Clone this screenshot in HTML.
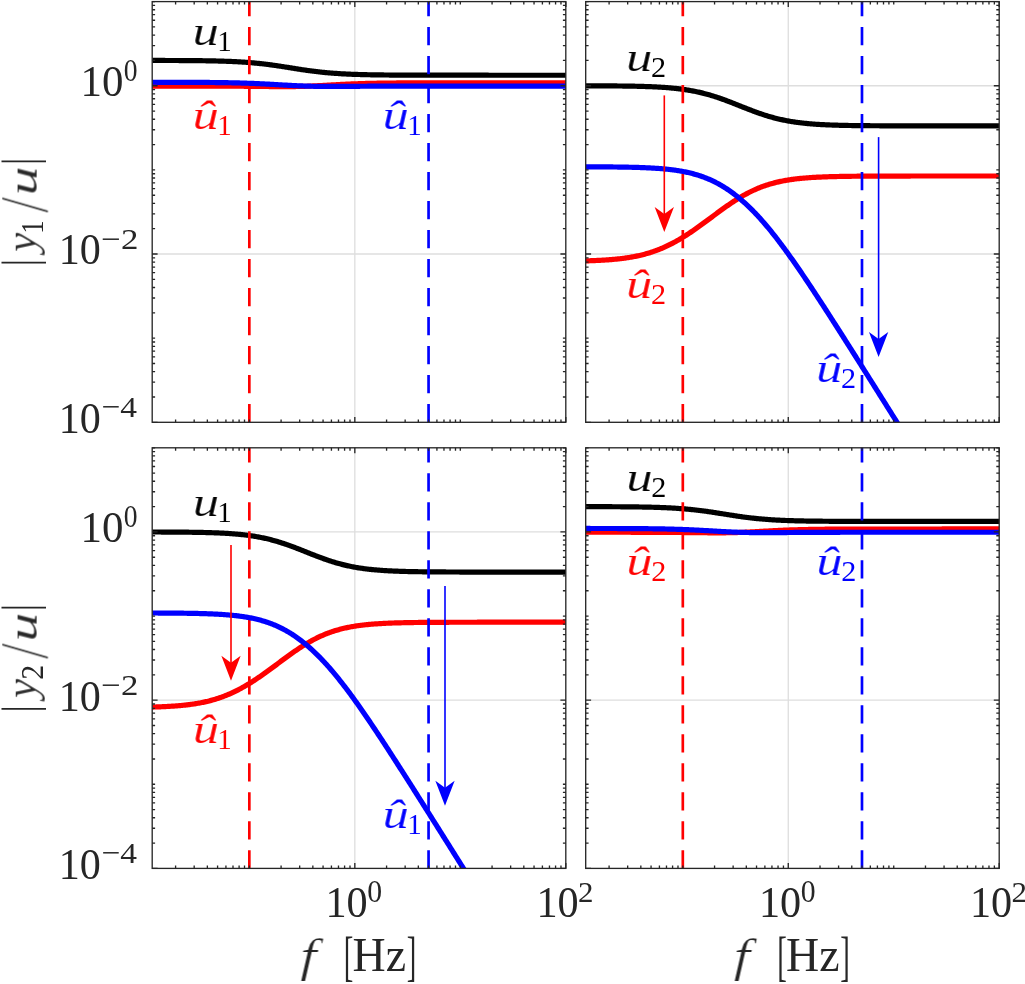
<!DOCTYPE html>
<html><head><meta charset="utf-8"><title>Transfer functions</title>
<style>html,body{margin:0;padding:0;background:#fff}svg{display:block}text{font-family:"Liberation Serif",serif}</style></head><body>
<svg width="1025" height="984" viewBox="0 0 1025 984">
<rect width="1025" height="984" fill="#fff"/>
<defs><filter id="thin" x="-10%" y="-10%" width="120%" height="120%" color-interpolation-filters="sRGB"><feMorphology operator="erode" radius="1 0" result="e"/><feComposite in="SourceGraphic" in2="e" operator="arithmetic" k1="0" k2="0.75" k3="0.25" k4="0"/></filter><filter id="thin2" x="-10%" y="-10%" width="120%" height="120%" color-interpolation-filters="sRGB"><feMorphology operator="erode" radius="1 0" result="e"/><feComposite in="SourceGraphic" in2="e" operator="arithmetic" k1="0" k2="0.45" k3="0.55" k4="0"/></filter></defs>
<clipPath id="cTL"><rect x="152.20" y="1.60" width="414.30" height="420.70"/></clipPath>
<clipPath id="cTR"><rect x="585.70" y="1.60" width="414.20" height="420.70"/></clipPath>
<clipPath id="cBL"><rect x="152.20" y="447.80" width="414.30" height="420.60"/></clipPath>
<clipPath id="cBR"><rect x="585.70" y="447.80" width="414.20" height="420.60"/></clipPath>
<g id="axTL">
<line x1="354.82" y1="1.60" x2="354.82" y2="422.30" stroke="#dedede" stroke-width="1.33"/>
<line x1="152.20" y1="85.74" x2="565.80" y2="85.74" stroke="#dedede" stroke-width="1.33"/>
<line x1="152.20" y1="254.02" x2="565.80" y2="254.02" stroke="#dedede" stroke-width="1.33"/>
<path clip-path="url(#cTL)" d="M152.20 60.45 L153.24 60.45 L154.27 60.45 L155.31 60.45 L156.35 60.45 L157.38 60.46 L158.42 60.46 L159.46 60.46 L160.49 60.46 L161.53 60.47 L162.57 60.47 L163.60 60.47 L164.64 60.47 L165.68 60.48 L166.71 60.48 L167.75 60.48 L168.79 60.49 L169.82 60.49 L170.86 60.49 L171.90 60.50 L172.93 60.50 L173.97 60.51 L175.01 60.51 L176.04 60.51 L177.08 60.52 L178.11 60.52 L179.15 60.53 L180.19 60.53 L181.22 60.54 L182.26 60.55 L183.30 60.55 L184.33 60.56 L185.37 60.57 L186.41 60.57 L187.44 60.58 L188.48 60.59 L189.52 60.60 L190.55 60.60 L191.59 60.61 L192.63 60.62 L193.66 60.63 L194.70 60.64 L195.74 60.65 L196.77 60.66 L197.81 60.67 L198.85 60.69 L199.88 60.70 L200.92 60.71 L201.96 60.72 L202.99 60.74 L204.03 60.75 L205.07 60.77 L206.10 60.79 L207.14 60.80 L208.18 60.82 L209.21 60.84 L210.25 60.86 L211.29 60.88 L212.32 60.90 L213.36 60.92 L214.40 60.94 L215.43 60.97 L216.47 60.99 L217.51 61.02 L218.54 61.04 L219.58 61.07 L220.62 61.10 L221.65 61.13 L222.69 61.16 L223.72 61.19 L224.76 61.23 L225.80 61.26 L226.83 61.30 L227.87 61.34 L228.91 61.38 L229.94 61.42 L230.98 61.47 L232.02 61.51 L233.05 61.56 L234.09 61.61 L235.13 61.66 L236.16 61.71 L237.20 61.76 L238.24 61.82 L239.27 61.88 L240.31 61.94 L241.35 62.00 L242.38 62.07 L243.42 62.13 L244.46 62.20 L245.49 62.27 L246.53 62.35 L247.57 62.43 L248.60 62.51 L249.64 62.59 L250.68 62.67 L251.71 62.76 L252.75 62.85 L253.79 62.94 L254.82 63.04 L255.86 63.14 L256.90 63.24 L257.93 63.34 L258.97 63.45 L260.01 63.56 L261.04 63.67 L262.08 63.79 L263.12 63.91 L264.15 64.03 L265.19 64.15 L266.23 64.28 L267.26 64.41 L268.30 64.54 L269.33 64.67 L270.37 64.81 L271.41 64.95 L272.44 65.09 L273.48 65.24 L274.52 65.38 L275.55 65.53 L276.59 65.68 L277.63 65.83 L278.66 65.99 L279.70 66.15 L280.74 66.30 L281.77 66.46 L282.81 66.62 L283.85 66.78 L284.88 66.95 L285.92 67.11 L286.96 67.27 L287.99 67.44 L289.03 67.60 L290.07 67.77 L291.10 67.94 L292.14 68.10 L293.18 68.27 L294.21 68.43 L295.25 68.59 L296.29 68.76 L297.32 68.92 L298.36 69.08 L299.40 69.24 L300.43 69.40 L301.47 69.56 L302.51 69.71 L303.54 69.87 L304.58 70.02 L305.62 70.17 L306.65 70.32 L307.69 70.46 L308.73 70.60 L309.76 70.75 L310.80 70.88 L311.84 71.02 L312.87 71.15 L313.91 71.28 L314.94 71.41 L315.98 71.54 L317.02 71.66 L318.05 71.78 L319.09 71.90 L320.13 72.01 L321.16 72.12 L322.20 72.23 L323.24 72.34 L324.27 72.44 L325.31 72.54 L326.35 72.64 L327.38 72.73 L328.42 72.83 L329.46 72.91 L330.49 73.00 L331.53 73.08 L332.57 73.17 L333.60 73.24 L334.64 73.32 L335.68 73.39 L336.71 73.46 L337.75 73.53 L338.79 73.60 L339.82 73.66 L340.86 73.73 L341.90 73.79 L342.93 73.84 L343.97 73.90 L345.01 73.95 L346.04 74.00 L347.08 74.05 L348.12 74.10 L349.15 74.15 L350.19 74.19 L351.23 74.23 L352.26 74.28 L353.30 74.31 L354.34 74.35 L355.37 74.39 L356.41 74.42 L357.45 74.46 L358.48 74.49 L359.52 74.52 L360.55 74.55 L361.59 74.58 L362.63 74.61 L363.66 74.63 L364.70 74.66 L365.74 74.68 L366.77 74.71 L367.81 74.73 L368.85 74.75 L369.88 74.77 L370.92 74.79 L371.96 74.81 L372.99 74.83 L374.03 74.84 L375.07 74.86 L376.10 74.88 L377.14 74.89 L378.18 74.91 L379.21 74.92 L380.25 74.93 L381.29 74.95 L382.32 74.96 L383.36 74.97 L384.40 74.98 L385.43 74.99 L386.47 75.00 L387.51 75.01 L388.54 75.02 L389.58 75.03 L390.62 75.04 L391.65 75.05 L392.69 75.05 L393.73 75.06 L394.76 75.07 L395.80 75.08 L396.84 75.08 L397.87 75.09 L398.91 75.10 L399.95 75.10 L400.98 75.11 L402.02 75.11 L403.06 75.12 L404.09 75.12 L405.13 75.13 L406.16 75.13 L407.20 75.14 L408.24 75.14 L409.27 75.14 L410.31 75.15 L411.35 75.15 L412.38 75.15 L413.42 75.16 L414.46 75.16 L415.49 75.16 L416.53 75.17 L417.57 75.17 L418.60 75.17 L419.64 75.17 L420.68 75.18 L421.71 75.18 L422.75 75.18 L423.79 75.18 L424.82 75.18 L425.86 75.19 L426.90 75.19 L427.93 75.19 L428.97 75.19 L430.01 75.19 L431.04 75.19 L432.08 75.20 L433.12 75.20 L434.15 75.20 L435.19 75.20 L436.23 75.20 L437.26 75.20 L438.30 75.20 L439.34 75.20 L440.37 75.21 L441.41 75.21 L442.45 75.21 L443.48 75.21 L444.52 75.21 L445.56 75.21 L446.59 75.21 L447.63 75.21 L448.67 75.21 L449.70 75.21 L450.74 75.21 L451.77 75.21 L452.81 75.21 L453.85 75.22 L454.88 75.22 L455.92 75.22 L456.96 75.22 L457.99 75.22 L459.03 75.22 L460.07 75.22 L461.10 75.22 L462.14 75.22 L463.18 75.22 L464.21 75.22 L465.25 75.22 L466.29 75.22 L467.32 75.22 L468.36 75.22 L469.40 75.22 L470.43 75.22 L471.47 75.22 L472.51 75.22 L473.54 75.22 L474.58 75.22 L475.62 75.22 L476.65 75.22 L477.69 75.22 L478.73 75.22 L479.76 75.22 L480.80 75.22 L481.84 75.22 L482.87 75.22 L483.91 75.22 L484.95 75.22 L485.98 75.22 L487.02 75.22 L488.06 75.22 L489.09 75.23 L490.13 75.23 L491.17 75.23 L492.20 75.23 L493.24 75.23 L494.28 75.23 L495.31 75.23 L496.35 75.23 L497.38 75.23 L498.42 75.23 L499.46 75.23 L500.49 75.23 L501.53 75.23 L502.57 75.23 L503.60 75.23 L504.64 75.23 L505.68 75.23 L506.71 75.23 L507.75 75.23 L508.79 75.23 L509.82 75.23 L510.86 75.23 L511.90 75.23 L512.93 75.23 L513.97 75.23 L515.01 75.23 L516.04 75.23 L517.08 75.23 L518.12 75.23 L519.15 75.23 L520.19 75.23 L521.23 75.23 L522.26 75.23 L523.30 75.23 L524.34 75.23 L525.37 75.23 L526.41 75.23 L527.45 75.23 L528.48 75.23 L529.52 75.23 L530.56 75.23 L531.59 75.23 L532.63 75.23 L533.67 75.23 L534.70 75.23 L535.74 75.23 L536.78 75.23 L537.81 75.23 L538.85 75.23 L539.89 75.23 L540.92 75.23 L541.96 75.23 L542.99 75.23 L544.03 75.23 L545.07 75.23 L546.10 75.23 L547.14 75.23 L548.18 75.23 L549.21 75.23 L550.25 75.23 L551.29 75.23 L552.32 75.23 L553.36 75.23 L554.40 75.23 L555.43 75.23 L556.47 75.23 L557.51 75.23 L558.54 75.23 L559.58 75.23 L560.62 75.23 L561.65 75.23 L562.69 75.23 L563.73 75.23 L564.76 75.23 L565.80 75.23" fill="none" stroke="#000000" stroke-width="5.20" stroke-linejoin="round"/>
<path clip-path="url(#cTL)" d="M152.20 86.04 L153.24 86.04 L154.27 86.04 L155.31 86.04 L156.35 86.04 L157.38 86.05 L158.42 86.05 L159.46 86.05 L160.49 86.05 L161.53 86.05 L162.57 86.05 L163.60 86.05 L164.64 86.05 L165.68 86.05 L166.71 86.05 L167.75 86.05 L168.79 86.05 L169.82 86.05 L170.86 86.05 L171.90 86.05 L172.93 86.05 L173.97 86.05 L175.01 86.05 L176.04 86.05 L177.08 86.05 L178.11 86.05 L179.15 86.06 L180.19 86.06 L181.22 86.06 L182.26 86.06 L183.30 86.06 L184.33 86.06 L185.37 86.06 L186.41 86.06 L187.44 86.06 L188.48 86.06 L189.52 86.06 L190.55 86.07 L191.59 86.07 L192.63 86.07 L193.66 86.07 L194.70 86.07 L195.74 86.07 L196.77 86.07 L197.81 86.08 L198.85 86.08 L199.88 86.08 L200.92 86.08 L201.96 86.08 L202.99 86.08 L204.03 86.09 L205.07 86.09 L206.10 86.09 L207.14 86.09 L208.18 86.10 L209.21 86.10 L210.25 86.10 L211.29 86.10 L212.32 86.11 L213.36 86.11 L214.40 86.11 L215.43 86.12 L216.47 86.12 L217.51 86.12 L218.54 86.13 L219.58 86.13 L220.62 86.13 L221.65 86.14 L222.69 86.14 L223.72 86.15 L224.76 86.15 L225.80 86.16 L226.83 86.16 L227.87 86.17 L228.91 86.17 L229.94 86.18 L230.98 86.18 L232.02 86.19 L233.05 86.19 L234.09 86.20 L235.13 86.21 L236.16 86.21 L237.20 86.22 L238.24 86.23 L239.27 86.24 L240.31 86.24 L241.35 86.25 L242.38 86.26 L243.42 86.27 L244.46 86.28 L245.49 86.29 L246.53 86.29 L247.57 86.30 L248.60 86.31 L249.64 86.32 L250.68 86.33 L251.71 86.34 L252.75 86.35 L253.79 86.36 L254.82 86.38 L255.86 86.39 L256.90 86.40 L257.93 86.41 L258.97 86.42 L260.01 86.43 L261.04 86.44 L262.08 86.45 L263.12 86.46 L264.15 86.48 L265.19 86.49 L266.23 86.50 L267.26 86.51 L268.30 86.52 L269.33 86.53 L270.37 86.54 L271.41 86.55 L272.44 86.56 L273.48 86.57 L274.52 86.58 L275.55 86.59 L276.59 86.59 L277.63 86.60 L278.66 86.61 L279.70 86.61 L280.74 86.62 L281.77 86.62 L282.81 86.62 L283.85 86.62 L284.88 86.62 L285.92 86.62 L286.96 86.62 L287.99 86.61 L289.03 86.61 L290.07 86.60 L291.10 86.59 L292.14 86.58 L293.18 86.57 L294.21 86.55 L295.25 86.54 L296.29 86.52 L297.32 86.50 L298.36 86.48 L299.40 86.45 L300.43 86.43 L301.47 86.40 L302.51 86.37 L303.54 86.34 L304.58 86.30 L305.62 86.27 L306.65 86.23 L307.69 86.19 L308.73 86.15 L309.76 86.11 L310.80 86.07 L311.84 86.02 L312.87 85.97 L313.91 85.92 L314.94 85.87 L315.98 85.82 L317.02 85.77 L318.05 85.71 L319.09 85.66 L320.13 85.60 L321.16 85.55 L322.20 85.49 L323.24 85.43 L324.27 85.37 L325.31 85.31 L326.35 85.25 L327.38 85.20 L328.42 85.14 L329.46 85.08 L330.49 85.02 L331.53 84.96 L332.57 84.90 L333.60 84.84 L334.64 84.78 L335.68 84.73 L336.71 84.67 L337.75 84.61 L338.79 84.56 L339.82 84.50 L340.86 84.45 L341.90 84.40 L342.93 84.35 L343.97 84.30 L345.01 84.25 L346.04 84.20 L347.08 84.15 L348.12 84.10 L349.15 84.06 L350.19 84.01 L351.23 83.97 L352.26 83.93 L353.30 83.88 L354.34 83.84 L355.37 83.81 L356.41 83.77 L357.45 83.73 L358.48 83.70 L359.52 83.66 L360.55 83.63 L361.59 83.59 L362.63 83.56 L363.66 83.53 L364.70 83.50 L365.74 83.47 L366.77 83.45 L367.81 83.42 L368.85 83.39 L369.88 83.37 L370.92 83.35 L371.96 83.32 L372.99 83.30 L374.03 83.28 L375.07 83.26 L376.10 83.24 L377.14 83.22 L378.18 83.20 L379.21 83.18 L380.25 83.17 L381.29 83.15 L382.32 83.14 L383.36 83.12 L384.40 83.11 L385.43 83.09 L386.47 83.08 L387.51 83.07 L388.54 83.05 L389.58 83.04 L390.62 83.03 L391.65 83.02 L392.69 83.01 L393.73 83.00 L394.76 82.99 L395.80 82.98 L396.84 82.97 L397.87 82.96 L398.91 82.95 L399.95 82.95 L400.98 82.94 L402.02 82.93 L403.06 82.93 L404.09 82.92 L405.13 82.91 L406.16 82.91 L407.20 82.90 L408.24 82.89 L409.27 82.89 L410.31 82.88 L411.35 82.88 L412.38 82.88 L413.42 82.87 L414.46 82.87 L415.49 82.86 L416.53 82.86 L417.57 82.85 L418.60 82.85 L419.64 82.85 L420.68 82.84 L421.71 82.84 L422.75 82.84 L423.79 82.84 L424.82 82.83 L425.86 82.83 L426.90 82.83 L427.93 82.83 L428.97 82.82 L430.01 82.82 L431.04 82.82 L432.08 82.82 L433.12 82.81 L434.15 82.81 L435.19 82.81 L436.23 82.81 L437.26 82.81 L438.30 82.81 L439.34 82.81 L440.37 82.80 L441.41 82.80 L442.45 82.80 L443.48 82.80 L444.52 82.80 L445.56 82.80 L446.59 82.80 L447.63 82.80 L448.67 82.79 L449.70 82.79 L450.74 82.79 L451.77 82.79 L452.81 82.79 L453.85 82.79 L454.88 82.79 L455.92 82.79 L456.96 82.79 L457.99 82.79 L459.03 82.79 L460.07 82.79 L461.10 82.79 L462.14 82.79 L463.18 82.78 L464.21 82.78 L465.25 82.78 L466.29 82.78 L467.32 82.78 L468.36 82.78 L469.40 82.78 L470.43 82.78 L471.47 82.78 L472.51 82.78 L473.54 82.78 L474.58 82.78 L475.62 82.78 L476.65 82.78 L477.69 82.78 L478.73 82.78 L479.76 82.78 L480.80 82.78 L481.84 82.78 L482.87 82.78 L483.91 82.78 L484.95 82.78 L485.98 82.78 L487.02 82.78 L488.06 82.78 L489.09 82.78 L490.13 82.78 L491.17 82.78 L492.20 82.78 L493.24 82.78 L494.28 82.78 L495.31 82.78 L496.35 82.78 L497.38 82.78 L498.42 82.78 L499.46 82.78 L500.49 82.78 L501.53 82.78 L502.57 82.78 L503.60 82.78 L504.64 82.78 L505.68 82.78 L506.71 82.78 L507.75 82.78 L508.79 82.77 L509.82 82.77 L510.86 82.77 L511.90 82.77 L512.93 82.77 L513.97 82.77 L515.01 82.77 L516.04 82.77 L517.08 82.77 L518.12 82.77 L519.15 82.77 L520.19 82.77 L521.23 82.77 L522.26 82.77 L523.30 82.77 L524.34 82.77 L525.37 82.77 L526.41 82.77 L527.45 82.77 L528.48 82.77 L529.52 82.77 L530.56 82.77 L531.59 82.77 L532.63 82.77 L533.67 82.77 L534.70 82.77 L535.74 82.77 L536.78 82.77 L537.81 82.77 L538.85 82.77 L539.89 82.77 L540.92 82.77 L541.96 82.77 L542.99 82.77 L544.03 82.77 L545.07 82.77 L546.10 82.77 L547.14 82.77 L548.18 82.77 L549.21 82.77 L550.25 82.77 L551.29 82.77 L552.32 82.77 L553.36 82.77 L554.40 82.77 L555.43 82.77 L556.47 82.77 L557.51 82.77 L558.54 82.77 L559.58 82.77 L560.62 82.77 L561.65 82.77 L562.69 82.77 L563.73 82.77 L564.76 82.77 L565.80 82.77" fill="none" stroke="#ff0000" stroke-width="5.20" stroke-linejoin="round"/>
<line x1="249.34" y1="422.30" x2="249.34" y2="1.60" stroke="#ff0000" stroke-width="2.67" stroke-dasharray="18.2 10.8"/>
<path clip-path="url(#cTL)" d="M152.20 82.27 L153.24 82.27 L154.27 82.27 L155.31 82.27 L156.35 82.27 L157.38 82.28 L158.42 82.28 L159.46 82.28 L160.49 82.28 L161.53 82.28 L162.57 82.28 L163.60 82.28 L164.64 82.28 L165.68 82.29 L166.71 82.29 L167.75 82.29 L168.79 82.29 L169.82 82.29 L170.86 82.29 L171.90 82.30 L172.93 82.30 L173.97 82.30 L175.01 82.30 L176.04 82.30 L177.08 82.31 L178.11 82.31 L179.15 82.31 L180.19 82.31 L181.22 82.32 L182.26 82.32 L183.30 82.32 L184.33 82.33 L185.37 82.33 L186.41 82.33 L187.44 82.34 L188.48 82.34 L189.52 82.35 L190.55 82.35 L191.59 82.35 L192.63 82.36 L193.66 82.36 L194.70 82.37 L195.74 82.37 L196.77 82.38 L197.81 82.38 L198.85 82.39 L199.88 82.40 L200.92 82.40 L201.96 82.41 L202.99 82.42 L204.03 82.42 L205.07 82.43 L206.10 82.44 L207.14 82.45 L208.18 82.46 L209.21 82.47 L210.25 82.48 L211.29 82.49 L212.32 82.50 L213.36 82.51 L214.40 82.52 L215.43 82.53 L216.47 82.54 L217.51 82.56 L218.54 82.57 L219.58 82.58 L220.62 82.60 L221.65 82.61 L222.69 82.63 L223.72 82.64 L224.76 82.66 L225.80 82.68 L226.83 82.69 L227.87 82.71 L228.91 82.73 L229.94 82.75 L230.98 82.77 L232.02 82.80 L233.05 82.82 L234.09 82.84 L235.13 82.87 L236.16 82.89 L237.20 82.92 L238.24 82.94 L239.27 82.97 L240.31 83.00 L241.35 83.03 L242.38 83.06 L243.42 83.09 L244.46 83.13 L245.49 83.16 L246.53 83.20 L247.57 83.23 L248.60 83.27 L249.64 83.31 L250.68 83.35 L251.71 83.39 L252.75 83.43 L253.79 83.47 L254.82 83.51 L255.86 83.56 L256.90 83.60 L257.93 83.65 L258.97 83.70 L260.01 83.75 L261.04 83.80 L262.08 83.85 L263.12 83.90 L264.15 83.95 L265.19 84.00 L266.23 84.06 L267.26 84.11 L268.30 84.17 L269.33 84.22 L270.37 84.28 L271.41 84.34 L272.44 84.40 L273.48 84.45 L274.52 84.51 L275.55 84.57 L276.59 84.63 L277.63 84.69 L278.66 84.75 L279.70 84.81 L280.74 84.87 L281.77 84.93 L282.81 84.99 L283.85 85.05 L284.88 85.10 L285.92 85.16 L286.96 85.22 L287.99 85.28 L289.03 85.33 L290.07 85.39 L291.10 85.44 L292.14 85.49 L293.18 85.55 L294.21 85.60 L295.25 85.65 L296.29 85.70 L297.32 85.74 L298.36 85.79 L299.40 85.83 L300.43 85.88 L301.47 85.92 L302.51 85.96 L303.54 86.00 L304.58 86.03 L305.62 86.07 L306.65 86.10 L307.69 86.13 L308.73 86.16 L309.76 86.19 L310.80 86.22 L311.84 86.24 L312.87 86.27 L313.91 86.29 L314.94 86.31 L315.98 86.33 L317.02 86.34 L318.05 86.36 L319.09 86.37 L320.13 86.39 L321.16 86.40 L322.20 86.41 L323.24 86.42 L324.27 86.43 L325.31 86.43 L326.35 86.44 L327.38 86.44 L328.42 86.44 L329.46 86.45 L330.49 86.45 L331.53 86.45 L332.57 86.45 L333.60 86.44 L334.64 86.44 L335.68 86.44 L336.71 86.44 L337.75 86.43 L338.79 86.43 L339.82 86.42 L340.86 86.42 L341.90 86.41 L342.93 86.40 L343.97 86.40 L345.01 86.39 L346.04 86.38 L347.08 86.38 L348.12 86.37 L349.15 86.36 L350.19 86.35 L351.23 86.34 L352.26 86.34 L353.30 86.33 L354.34 86.32 L355.37 86.31 L356.41 86.31 L357.45 86.30 L358.48 86.29 L359.52 86.28 L360.55 86.27 L361.59 86.27 L362.63 86.26 L363.66 86.25 L364.70 86.24 L365.74 86.24 L366.77 86.23 L367.81 86.22 L368.85 86.22 L369.88 86.21 L370.92 86.20 L371.96 86.20 L372.99 86.19 L374.03 86.19 L375.07 86.18 L376.10 86.18 L377.14 86.17 L378.18 86.16 L379.21 86.16 L380.25 86.15 L381.29 86.15 L382.32 86.15 L383.36 86.14 L384.40 86.14 L385.43 86.13 L386.47 86.13 L387.51 86.13 L388.54 86.12 L389.58 86.12 L390.62 86.11 L391.65 86.11 L392.69 86.11 L393.73 86.11 L394.76 86.10 L395.80 86.10 L396.84 86.10 L397.87 86.09 L398.91 86.09 L399.95 86.09 L400.98 86.09 L402.02 86.08 L403.06 86.08 L404.09 86.08 L405.13 86.08 L406.16 86.08 L407.20 86.07 L408.24 86.07 L409.27 86.07 L410.31 86.07 L411.35 86.07 L412.38 86.07 L413.42 86.07 L414.46 86.06 L415.49 86.06 L416.53 86.06 L417.57 86.06 L418.60 86.06 L419.64 86.06 L420.68 86.06 L421.71 86.06 L422.75 86.05 L423.79 86.05 L424.82 86.05 L425.86 86.05 L426.90 86.05 L427.93 86.05 L428.97 86.05 L430.01 86.05 L431.04 86.05 L432.08 86.05 L433.12 86.05 L434.15 86.05 L435.19 86.05 L436.23 86.05 L437.26 86.04 L438.30 86.04 L439.34 86.04 L440.37 86.04 L441.41 86.04 L442.45 86.04 L443.48 86.04 L444.52 86.04 L445.56 86.04 L446.59 86.04 L447.63 86.04 L448.67 86.04 L449.70 86.04 L450.74 86.04 L451.77 86.04 L452.81 86.04 L453.85 86.04 L454.88 86.04 L455.92 86.04 L456.96 86.04 L457.99 86.04 L459.03 86.04 L460.07 86.04 L461.10 86.04 L462.14 86.04 L463.18 86.04 L464.21 86.04 L465.25 86.04 L466.29 86.04 L467.32 86.04 L468.36 86.04 L469.40 86.04 L470.43 86.04 L471.47 86.04 L472.51 86.04 L473.54 86.04 L474.58 86.04 L475.62 86.04 L476.65 86.04 L477.69 86.04 L478.73 86.04 L479.76 86.04 L480.80 86.04 L481.84 86.04 L482.87 86.04 L483.91 86.04 L484.95 86.03 L485.98 86.03 L487.02 86.03 L488.06 86.03 L489.09 86.03 L490.13 86.03 L491.17 86.03 L492.20 86.03 L493.24 86.03 L494.28 86.03 L495.31 86.03 L496.35 86.03 L497.38 86.03 L498.42 86.03 L499.46 86.03 L500.49 86.03 L501.53 86.03 L502.57 86.03 L503.60 86.03 L504.64 86.03 L505.68 86.03 L506.71 86.03 L507.75 86.03 L508.79 86.03 L509.82 86.03 L510.86 86.03 L511.90 86.03 L512.93 86.03 L513.97 86.03 L515.01 86.03 L516.04 86.03 L517.08 86.03 L518.12 86.03 L519.15 86.03 L520.19 86.03 L521.23 86.03 L522.26 86.03 L523.30 86.03 L524.34 86.03 L525.37 86.03 L526.41 86.03 L527.45 86.03 L528.48 86.03 L529.52 86.03 L530.56 86.03 L531.59 86.03 L532.63 86.03 L533.67 86.03 L534.70 86.03 L535.74 86.03 L536.78 86.03 L537.81 86.03 L538.85 86.03 L539.89 86.03 L540.92 86.03 L541.96 86.03 L542.99 86.03 L544.03 86.03 L545.07 86.03 L546.10 86.03 L547.14 86.03 L548.18 86.03 L549.21 86.03 L550.25 86.03 L551.29 86.03 L552.32 86.03 L553.36 86.03 L554.40 86.03 L555.43 86.03 L556.47 86.03 L557.51 86.03 L558.54 86.03 L559.58 86.03 L560.62 86.03 L561.65 86.03 L562.69 86.03 L563.73 86.03 L564.76 86.03 L565.80 86.03" fill="none" stroke="#0000ff" stroke-width="5.20" stroke-linejoin="round"/>
<line x1="428.56" y1="422.30" x2="428.56" y2="1.60" stroke="#0000ff" stroke-width="2.67" stroke-dasharray="18.2 10.8"/>
<path d="M175.60 422.30v-2.90 M175.60 1.60v2.90 M194.18 422.30v-2.90 M194.18 1.60v2.90 M207.36 422.30v-2.90 M207.36 1.60v2.90 M217.58 422.30v-2.90 M217.58 1.60v2.90 M225.93 422.30v-2.90 M225.93 1.60v2.90 M233.00 422.30v-2.90 M233.00 1.60v2.90 M239.11 422.30v-2.90 M239.11 1.60v2.90 M244.51 422.30v-2.90 M244.51 1.60v2.90 M249.34 422.30v-2.90 M249.34 1.60v2.90 M281.09 422.30v-2.90 M281.09 1.60v2.90 M299.67 422.30v-2.90 M299.67 1.60v2.90 M312.85 422.30v-2.90 M312.85 1.60v2.90 M323.07 422.30v-2.90 M323.07 1.60v2.90 M331.42 422.30v-2.90 M331.42 1.60v2.90 M338.48 422.30v-2.90 M338.48 1.60v2.90 M344.60 422.30v-2.90 M344.60 1.60v2.90 M350.00 422.30v-2.90 M350.00 1.60v2.90 M354.82 422.30v-5.40 M354.82 1.60v5.40 M386.58 422.30v-2.90 M386.58 1.60v2.90 M405.15 422.30v-2.90 M405.15 1.60v2.90 M418.33 422.30v-2.90 M418.33 1.60v2.90 M428.56 422.30v-2.90 M428.56 1.60v2.90 M436.91 422.30v-2.90 M436.91 1.60v2.90 M443.97 422.30v-2.90 M443.97 1.60v2.90 M450.09 422.30v-2.90 M450.09 1.60v2.90 M455.48 422.30v-2.90 M455.48 1.60v2.90 M460.31 422.30v-2.90 M460.31 1.60v2.90 M492.07 422.30v-2.90 M492.07 1.60v2.90 M510.64 422.30v-2.90 M510.64 1.60v2.90 M523.82 422.30v-2.90 M523.82 1.60v2.90 M534.04 422.30v-2.90 M534.04 1.60v2.90 M542.40 422.30v-2.90 M542.40 1.60v2.90 M549.46 422.30v-2.90 M549.46 1.60v2.90 M555.58 422.30v-2.90 M555.58 1.60v2.90 M560.97 422.30v-2.90 M560.97 1.60v2.90 M565.80 422.30v-5.40 M565.80 1.60v5.40 M152.20 422.30h5.40 M565.80 422.30h-5.40 M152.20 396.97h2.90 M565.80 396.97h-2.90 M152.20 382.16h2.90 M565.80 382.16h-2.90 M152.20 371.64h2.90 M565.80 371.64h-2.90 M152.20 363.49h2.90 M565.80 363.49h-2.90 M152.20 356.83h2.90 M565.80 356.83h-2.90 M152.20 351.19h2.90 M565.80 351.19h-2.90 M152.20 346.31h2.90 M565.80 346.31h-2.90 M152.20 342.01h2.90 M565.80 342.01h-2.90 M152.20 338.16h2.90 M565.80 338.16h-2.90 M152.20 312.83h2.90 M565.80 312.83h-2.90 M152.20 298.02h2.90 M565.80 298.02h-2.90 M152.20 287.50h2.90 M565.80 287.50h-2.90 M152.20 279.35h2.90 M565.80 279.35h-2.90 M152.20 272.69h2.90 M565.80 272.69h-2.90 M152.20 267.05h2.90 M565.80 267.05h-2.90 M152.20 262.17h2.90 M565.80 262.17h-2.90 M152.20 257.87h2.90 M565.80 257.87h-2.90 M152.20 254.02h5.40 M565.80 254.02h-5.40 M152.20 228.69h2.90 M565.80 228.69h-2.90 M152.20 213.88h2.90 M565.80 213.88h-2.90 M152.20 203.36h2.90 M565.80 203.36h-2.90 M152.20 195.21h2.90 M565.80 195.21h-2.90 M152.20 188.55h2.90 M565.80 188.55h-2.90 M152.20 182.91h2.90 M565.80 182.91h-2.90 M152.20 178.03h2.90 M565.80 178.03h-2.90 M152.20 173.73h2.90 M565.80 173.73h-2.90 M152.20 169.88h2.90 M565.80 169.88h-2.90 M152.20 144.55h2.90 M565.80 144.55h-2.90 M152.20 129.74h2.90 M565.80 129.74h-2.90 M152.20 119.22h2.90 M565.80 119.22h-2.90 M152.20 111.07h2.90 M565.80 111.07h-2.90 M152.20 104.41h2.90 M565.80 104.41h-2.90 M152.20 98.77h2.90 M565.80 98.77h-2.90 M152.20 93.89h2.90 M565.80 93.89h-2.90 M152.20 89.59h2.90 M565.80 89.59h-2.90 M152.20 85.74h5.40 M565.80 85.74h-5.40 M152.20 60.41h2.90 M565.80 60.41h-2.90 M152.20 45.60h2.90 M565.80 45.60h-2.90 M152.20 35.08h2.90 M565.80 35.08h-2.90 M152.20 26.93h2.90 M565.80 26.93h-2.90 M152.20 20.27h2.90 M565.80 20.27h-2.90 M152.20 14.63h2.90 M565.80 14.63h-2.90 M152.20 9.75h2.90 M565.80 9.75h-2.90 M152.20 5.45h2.90 M565.80 5.45h-2.90 M152.20 1.60h2.90 M565.80 1.60h-2.90" stroke="#262626" stroke-width="1.33" fill="none"/>
<rect x="152.20" y="1.60" width="413.60" height="420.70" fill="none" stroke="#262626" stroke-width="1.33"/>
</g>
<g id="axTR">
<line x1="788.27" y1="1.60" x2="788.27" y2="422.30" stroke="#dedede" stroke-width="1.33"/>
<line x1="585.70" y1="85.74" x2="999.20" y2="85.74" stroke="#dedede" stroke-width="1.33"/>
<line x1="585.70" y1="254.02" x2="999.20" y2="254.02" stroke="#dedede" stroke-width="1.33"/>
<path clip-path="url(#cTR)" d="M585.70 85.80 L586.74 85.80 L587.77 85.80 L588.81 85.81 L589.85 85.81 L590.88 85.81 L591.92 85.82 L592.95 85.82 L593.99 85.82 L595.03 85.83 L596.06 85.83 L597.10 85.84 L598.14 85.84 L599.17 85.84 L600.21 85.85 L601.25 85.85 L602.28 85.86 L603.32 85.87 L604.35 85.87 L605.39 85.88 L606.43 85.88 L607.46 85.89 L608.50 85.90 L609.54 85.90 L610.57 85.91 L611.61 85.92 L612.64 85.93 L613.68 85.94 L614.72 85.95 L615.75 85.96 L616.79 85.97 L617.83 85.98 L618.86 85.99 L619.90 86.00 L620.94 86.01 L621.97 86.02 L623.01 86.04 L624.04 86.05 L625.08 86.06 L626.12 86.08 L627.15 86.09 L628.19 86.11 L629.23 86.13 L630.26 86.14 L631.30 86.16 L632.34 86.18 L633.37 86.20 L634.41 86.22 L635.44 86.24 L636.48 86.27 L637.52 86.29 L638.55 86.32 L639.59 86.34 L640.63 86.37 L641.66 86.40 L642.70 86.43 L643.74 86.46 L644.77 86.49 L645.81 86.53 L646.84 86.56 L647.88 86.60 L648.92 86.64 L649.95 86.68 L650.99 86.72 L652.03 86.76 L653.06 86.81 L654.10 86.85 L655.13 86.90 L656.17 86.96 L657.21 87.01 L658.24 87.07 L659.28 87.12 L660.32 87.19 L661.35 87.25 L662.39 87.32 L663.43 87.38 L664.46 87.46 L665.50 87.53 L666.53 87.61 L667.57 87.69 L668.61 87.77 L669.64 87.86 L670.68 87.95 L671.72 88.05 L672.75 88.15 L673.79 88.25 L674.83 88.35 L675.86 88.46 L676.90 88.58 L677.93 88.70 L678.97 88.82 L680.01 88.95 L681.04 89.08 L682.08 89.22 L683.12 89.36 L684.15 89.51 L685.19 89.66 L686.23 89.82 L687.26 89.98 L688.30 90.15 L689.33 90.32 L690.37 90.50 L691.41 90.69 L692.44 90.88 L693.48 91.07 L694.52 91.28 L695.55 91.49 L696.59 91.70 L697.62 91.93 L698.66 92.15 L699.70 92.39 L700.73 92.63 L701.77 92.88 L702.81 93.13 L703.84 93.40 L704.88 93.66 L705.92 93.94 L706.95 94.22 L707.99 94.51 L709.02 94.80 L710.06 95.10 L711.10 95.41 L712.13 95.72 L713.17 96.04 L714.21 96.37 L715.24 96.70 L716.28 97.04 L717.32 97.38 L718.35 97.73 L719.39 98.08 L720.42 98.44 L721.46 98.81 L722.50 99.18 L723.53 99.55 L724.57 99.93 L725.61 100.31 L726.64 100.70 L727.68 101.09 L728.72 101.49 L729.75 101.88 L730.79 102.28 L731.82 102.69 L732.86 103.09 L733.90 103.50 L734.93 103.91 L735.97 104.32 L737.01 104.73 L738.04 105.14 L739.08 105.56 L740.11 105.97 L741.15 106.38 L742.19 106.80 L743.22 107.21 L744.26 107.62 L745.30 108.03 L746.33 108.44 L747.37 108.84 L748.41 109.25 L749.44 109.65 L750.48 110.05 L751.51 110.44 L752.55 110.83 L753.59 111.22 L754.62 111.60 L755.66 111.98 L756.70 112.36 L757.73 112.73 L758.77 113.10 L759.81 113.46 L760.84 113.81 L761.88 114.16 L762.91 114.51 L763.95 114.85 L764.99 115.18 L766.02 115.51 L767.06 115.83 L768.10 116.14 L769.13 116.45 L770.17 116.75 L771.21 117.05 L772.24 117.34 L773.28 117.62 L774.31 117.90 L775.35 118.17 L776.39 118.43 L777.42 118.69 L778.46 118.94 L779.50 119.18 L780.53 119.42 L781.57 119.65 L782.60 119.87 L783.64 120.09 L784.68 120.30 L785.71 120.50 L786.75 120.70 L787.79 120.89 L788.82 121.08 L789.86 121.26 L790.90 121.44 L791.93 121.61 L792.97 121.77 L794.00 121.93 L795.04 122.08 L796.08 122.23 L797.11 122.38 L798.15 122.51 L799.19 122.65 L800.22 122.78 L801.26 122.90 L802.30 123.02 L803.33 123.13 L804.37 123.25 L805.40 123.35 L806.44 123.46 L807.48 123.56 L808.51 123.65 L809.55 123.74 L810.59 123.83 L811.62 123.92 L812.66 124.00 L813.69 124.08 L814.73 124.15 L815.77 124.22 L816.80 124.29 L817.84 124.36 L818.88 124.42 L819.91 124.49 L820.95 124.55 L821.99 124.60 L823.02 124.66 L824.06 124.71 L825.09 124.76 L826.13 124.81 L827.17 124.85 L828.20 124.90 L829.24 124.94 L830.28 124.98 L831.31 125.02 L832.35 125.06 L833.39 125.09 L834.42 125.13 L835.46 125.16 L836.49 125.19 L837.53 125.22 L838.57 125.25 L839.60 125.28 L840.64 125.30 L841.68 125.33 L842.71 125.35 L843.75 125.38 L844.79 125.40 L845.82 125.42 L846.86 125.44 L847.89 125.46 L848.93 125.48 L849.97 125.49 L851.00 125.51 L852.04 125.53 L853.08 125.54 L854.11 125.56 L855.15 125.57 L856.18 125.59 L857.22 125.60 L858.26 125.61 L859.29 125.62 L860.33 125.64 L861.37 125.65 L862.40 125.66 L863.44 125.67 L864.48 125.68 L865.51 125.69 L866.55 125.69 L867.58 125.70 L868.62 125.71 L869.66 125.72 L870.69 125.73 L871.73 125.73 L872.77 125.74 L873.80 125.75 L874.84 125.75 L875.88 125.76 L876.91 125.76 L877.95 125.77 L878.98 125.77 L880.02 125.78 L881.06 125.78 L882.09 125.79 L883.13 125.79 L884.17 125.80 L885.20 125.80 L886.24 125.80 L887.28 125.81 L888.31 125.81 L889.35 125.81 L890.38 125.82 L891.42 125.82 L892.46 125.82 L893.49 125.83 L894.53 125.83 L895.57 125.83 L896.60 125.83 L897.64 125.84 L898.67 125.84 L899.71 125.84 L900.75 125.84 L901.78 125.84 L902.82 125.85 L903.86 125.85 L904.89 125.85 L905.93 125.85 L906.97 125.85 L908.00 125.85 L909.04 125.86 L910.07 125.86 L911.11 125.86 L912.15 125.86 L913.18 125.86 L914.22 125.86 L915.26 125.86 L916.29 125.86 L917.33 125.86 L918.37 125.87 L919.40 125.87 L920.44 125.87 L921.47 125.87 L922.51 125.87 L923.55 125.87 L924.58 125.87 L925.62 125.87 L926.66 125.87 L927.69 125.87 L928.73 125.87 L929.77 125.87 L930.80 125.87 L931.84 125.87 L932.87 125.87 L933.91 125.87 L934.95 125.88 L935.98 125.88 L937.02 125.88 L938.06 125.88 L939.09 125.88 L940.13 125.88 L941.16 125.88 L942.20 125.88 L943.24 125.88 L944.27 125.88 L945.31 125.88 L946.35 125.88 L947.38 125.88 L948.42 125.88 L949.46 125.88 L950.49 125.88 L951.53 125.88 L952.56 125.88 L953.60 125.88 L954.64 125.88 L955.67 125.88 L956.71 125.88 L957.75 125.88 L958.78 125.88 L959.82 125.88 L960.86 125.88 L961.89 125.88 L962.93 125.88 L963.96 125.88 L965.00 125.88 L966.04 125.88 L967.07 125.88 L968.11 125.88 L969.15 125.88 L970.18 125.88 L971.22 125.88 L972.26 125.88 L973.29 125.88 L974.33 125.88 L975.36 125.88 L976.40 125.88 L977.44 125.88 L978.47 125.88 L979.51 125.88 L980.55 125.88 L981.58 125.88 L982.62 125.88 L983.65 125.88 L984.69 125.88 L985.73 125.88 L986.76 125.88 L987.80 125.88 L988.84 125.88 L989.87 125.88 L990.91 125.88 L991.95 125.88 L992.98 125.88 L994.02 125.88 L995.05 125.88 L996.09 125.88 L997.13 125.88 L998.16 125.88 L999.20 125.88" fill="none" stroke="#000000" stroke-width="5.20" stroke-linejoin="round"/>
<path clip-path="url(#cTR)" d="M585.70 260.87 L586.74 260.84 L587.77 260.81 L588.81 260.78 L589.85 260.74 L590.88 260.71 L591.92 260.67 L592.95 260.63 L593.99 260.59 L595.03 260.55 L596.06 260.50 L597.10 260.46 L598.14 260.41 L599.17 260.36 L600.21 260.30 L601.25 260.25 L602.28 260.19 L603.32 260.13 L604.35 260.07 L605.39 260.00 L606.43 259.93 L607.46 259.86 L608.50 259.79 L609.54 259.71 L610.57 259.63 L611.61 259.54 L612.64 259.46 L613.68 259.36 L614.72 259.27 L615.75 259.17 L616.79 259.07 L617.83 258.96 L618.86 258.85 L619.90 258.73 L620.94 258.61 L621.97 258.48 L623.01 258.35 L624.04 258.22 L625.08 258.08 L626.12 257.93 L627.15 257.78 L628.19 257.62 L629.23 257.46 L630.26 257.29 L631.30 257.11 L632.34 256.93 L633.37 256.74 L634.41 256.54 L635.44 256.34 L636.48 256.13 L637.52 255.91 L638.55 255.68 L639.59 255.45 L640.63 255.21 L641.66 254.96 L642.70 254.70 L643.74 254.43 L644.77 254.16 L645.81 253.87 L646.84 253.58 L647.88 253.28 L648.92 252.97 L649.95 252.65 L650.99 252.32 L652.03 251.98 L653.06 251.63 L654.10 251.27 L655.13 250.91 L656.17 250.53 L657.21 250.14 L658.24 249.74 L659.28 249.33 L660.32 248.91 L661.35 248.49 L662.39 248.05 L663.43 247.60 L664.46 247.14 L665.50 246.67 L666.53 246.19 L667.57 245.69 L668.61 245.19 L669.64 244.68 L670.68 244.16 L671.72 243.63 L672.75 243.09 L673.79 242.53 L674.83 241.97 L675.86 241.40 L676.90 240.82 L677.93 240.23 L678.97 239.63 L680.01 239.02 L681.04 238.40 L682.08 237.78 L683.12 237.14 L684.15 236.50 L685.19 235.84 L686.23 235.18 L687.26 234.51 L688.30 233.84 L689.33 233.15 L690.37 232.46 L691.41 231.76 L692.44 231.06 L693.48 230.35 L694.52 229.63 L695.55 228.90 L696.59 228.18 L697.62 227.44 L698.66 226.70 L699.70 225.96 L700.73 225.21 L701.77 224.46 L702.81 223.70 L703.84 222.94 L704.88 222.18 L705.92 221.42 L706.95 220.65 L707.99 219.88 L709.02 219.11 L710.06 218.34 L711.10 217.57 L712.13 216.80 L713.17 216.03 L714.21 215.26 L715.24 214.49 L716.28 213.72 L717.32 212.96 L718.35 212.19 L719.39 211.43 L720.42 210.68 L721.46 209.92 L722.50 209.17 L723.53 208.43 L724.57 207.69 L725.61 206.95 L726.64 206.22 L727.68 205.50 L728.72 204.78 L729.75 204.07 L730.79 203.37 L731.82 202.67 L732.86 201.98 L733.90 201.30 L734.93 200.63 L735.97 199.97 L737.01 199.32 L738.04 198.67 L739.08 198.04 L740.11 197.41 L741.15 196.80 L742.19 196.19 L743.22 195.60 L744.26 195.01 L745.30 194.44 L746.33 193.88 L747.37 193.33 L748.41 192.79 L749.44 192.26 L750.48 191.74 L751.51 191.23 L752.55 190.74 L753.59 190.25 L754.62 189.78 L755.66 189.32 L756.70 188.87 L757.73 188.43 L758.77 188.00 L759.81 187.59 L760.84 187.18 L761.88 186.79 L762.91 186.41 L763.95 186.03 L764.99 185.67 L766.02 185.32 L767.06 184.98 L768.10 184.65 L769.13 184.33 L770.17 184.02 L771.21 183.72 L772.24 183.43 L773.28 183.14 L774.31 182.87 L775.35 182.61 L776.39 182.35 L777.42 182.10 L778.46 181.87 L779.50 181.64 L780.53 181.41 L781.57 181.20 L782.60 180.99 L783.64 180.79 L784.68 180.60 L785.71 180.42 L786.75 180.24 L787.79 180.07 L788.82 179.90 L789.86 179.74 L790.90 179.59 L791.93 179.44 L792.97 179.30 L794.00 179.16 L795.04 179.03 L796.08 178.91 L797.11 178.79 L798.15 178.67 L799.19 178.56 L800.22 178.45 L801.26 178.35 L802.30 178.25 L803.33 178.15 L804.37 178.06 L805.40 177.98 L806.44 177.89 L807.48 177.81 L808.51 177.74 L809.55 177.66 L810.59 177.59 L811.62 177.52 L812.66 177.46 L813.69 177.40 L814.73 177.34 L815.77 177.28 L816.80 177.22 L817.84 177.17 L818.88 177.12 L819.91 177.07 L820.95 177.03 L821.99 176.98 L823.02 176.94 L824.06 176.90 L825.09 176.86 L826.13 176.82 L827.17 176.79 L828.20 176.75 L829.24 176.72 L830.28 176.69 L831.31 176.66 L832.35 176.63 L833.39 176.60 L834.42 176.58 L835.46 176.55 L836.49 176.53 L837.53 176.51 L838.57 176.48 L839.60 176.46 L840.64 176.44 L841.68 176.42 L842.71 176.40 L843.75 176.39 L844.79 176.37 L845.82 176.35 L846.86 176.34 L847.89 176.32 L848.93 176.31 L849.97 176.30 L851.00 176.28 L852.04 176.27 L853.08 176.26 L854.11 176.25 L855.15 176.24 L856.18 176.23 L857.22 176.22 L858.26 176.21 L859.29 176.20 L860.33 176.19 L861.37 176.18 L862.40 176.17 L863.44 176.17 L864.48 176.16 L865.51 176.15 L866.55 176.15 L867.58 176.14 L868.62 176.13 L869.66 176.13 L870.69 176.12 L871.73 176.12 L872.77 176.11 L873.80 176.11 L874.84 176.10 L875.88 176.10 L876.91 176.09 L877.95 176.09 L878.98 176.09 L880.02 176.08 L881.06 176.08 L882.09 176.08 L883.13 176.07 L884.17 176.07 L885.20 176.07 L886.24 176.06 L887.28 176.06 L888.31 176.06 L889.35 176.06 L890.38 176.05 L891.42 176.05 L892.46 176.05 L893.49 176.05 L894.53 176.05 L895.57 176.04 L896.60 176.04 L897.64 176.04 L898.67 176.04 L899.71 176.04 L900.75 176.04 L901.78 176.03 L902.82 176.03 L903.86 176.03 L904.89 176.03 L905.93 176.03 L906.97 176.03 L908.00 176.03 L909.04 176.03 L910.07 176.03 L911.11 176.02 L912.15 176.02 L913.18 176.02 L914.22 176.02 L915.26 176.02 L916.29 176.02 L917.33 176.02 L918.37 176.02 L919.40 176.02 L920.44 176.02 L921.47 176.02 L922.51 176.02 L923.55 176.02 L924.58 176.02 L925.62 176.01 L926.66 176.01 L927.69 176.01 L928.73 176.01 L929.77 176.01 L930.80 176.01 L931.84 176.01 L932.87 176.01 L933.91 176.01 L934.95 176.01 L935.98 176.01 L937.02 176.01 L938.06 176.01 L939.09 176.01 L940.13 176.01 L941.16 176.01 L942.20 176.01 L943.24 176.01 L944.27 176.01 L945.31 176.01 L946.35 176.01 L947.38 176.01 L948.42 176.01 L949.46 176.01 L950.49 176.01 L951.53 176.01 L952.56 176.01 L953.60 176.01 L954.64 176.01 L955.67 176.01 L956.71 176.01 L957.75 176.01 L958.78 176.01 L959.82 176.01 L960.86 176.01 L961.89 176.01 L962.93 176.01 L963.96 176.01 L965.00 176.01 L966.04 176.01 L967.07 176.01 L968.11 176.01 L969.15 176.01 L970.18 176.01 L971.22 176.01 L972.26 176.01 L973.29 176.01 L974.33 176.01 L975.36 176.01 L976.40 176.01 L977.44 176.01 L978.47 176.01 L979.51 176.00 L980.55 176.00 L981.58 176.00 L982.62 176.00 L983.65 176.00 L984.69 176.00 L985.73 176.00 L986.76 176.00 L987.80 176.00 L988.84 176.00 L989.87 176.00 L990.91 176.00 L991.95 176.00 L992.98 176.00 L994.02 176.00 L995.05 176.00 L996.09 176.00 L997.13 176.00 L998.16 176.00 L999.20 176.00" fill="none" stroke="#ff0000" stroke-width="5.20" stroke-linejoin="round"/>
<line x1="682.81" y1="422.30" x2="682.81" y2="1.60" stroke="#ff0000" stroke-width="2.67" stroke-dasharray="18.2 10.8"/>
<path clip-path="url(#cTR)" d="M585.70 166.81 L586.74 166.81 L587.77 166.81 L588.81 166.82 L589.85 166.82 L590.88 166.82 L591.92 166.83 L592.95 166.83 L593.99 166.84 L595.03 166.84 L596.06 166.85 L597.10 166.85 L598.14 166.86 L599.17 166.87 L600.21 166.87 L601.25 166.88 L602.28 166.89 L603.32 166.89 L604.35 166.90 L605.39 166.91 L606.43 166.92 L607.46 166.92 L608.50 166.93 L609.54 166.94 L610.57 166.95 L611.61 166.96 L612.64 166.97 L613.68 166.98 L614.72 167.00 L615.75 167.01 L616.79 167.02 L617.83 167.03 L618.86 167.05 L619.90 167.06 L620.94 167.08 L621.97 167.09 L623.01 167.11 L624.04 167.13 L625.08 167.15 L626.12 167.17 L627.15 167.19 L628.19 167.21 L629.23 167.23 L630.26 167.25 L631.30 167.27 L632.34 167.30 L633.37 167.33 L634.41 167.35 L635.44 167.38 L636.48 167.41 L637.52 167.44 L638.55 167.47 L639.59 167.51 L640.63 167.54 L641.66 167.58 L642.70 167.62 L643.74 167.66 L644.77 167.70 L645.81 167.75 L646.84 167.79 L647.88 167.84 L648.92 167.89 L649.95 167.94 L650.99 168.00 L652.03 168.05 L653.06 168.11 L654.10 168.17 L655.13 168.24 L656.17 168.31 L657.21 168.38 L658.24 168.45 L659.28 168.53 L660.32 168.61 L661.35 168.69 L662.39 168.78 L663.43 168.87 L664.46 168.96 L665.50 169.06 L666.53 169.16 L667.57 169.27 L668.61 169.38 L669.64 169.50 L670.68 169.62 L671.72 169.74 L672.75 169.87 L673.79 170.01 L674.83 170.15 L675.86 170.30 L676.90 170.45 L677.93 170.61 L678.97 170.78 L680.01 170.95 L681.04 171.13 L682.08 171.31 L683.12 171.50 L684.15 171.70 L685.19 171.91 L686.23 172.13 L687.26 172.35 L688.30 172.58 L689.33 172.82 L690.37 173.07 L691.41 173.32 L692.44 173.59 L693.48 173.86 L694.52 174.15 L695.55 174.44 L696.59 174.75 L697.62 175.06 L698.66 175.39 L699.70 175.72 L700.73 176.07 L701.77 176.43 L702.81 176.80 L703.84 177.18 L704.88 177.57 L705.92 177.97 L706.95 178.39 L707.99 178.82 L709.02 179.26 L710.06 179.71 L711.10 180.18 L712.13 180.66 L713.17 181.15 L714.21 181.65 L715.24 182.17 L716.28 182.70 L717.32 183.25 L718.35 183.81 L719.39 184.38 L720.42 184.97 L721.46 185.57 L722.50 186.19 L723.53 186.82 L724.57 187.46 L725.61 188.12 L726.64 188.79 L727.68 189.48 L728.72 190.18 L729.75 190.90 L730.79 191.63 L731.82 192.38 L732.86 193.14 L733.90 193.92 L734.93 194.71 L735.97 195.52 L737.01 196.34 L738.04 197.17 L739.08 198.03 L740.11 198.89 L741.15 199.77 L742.19 200.67 L743.22 201.58 L744.26 202.50 L745.30 203.44 L746.33 204.40 L747.37 205.37 L748.41 206.35 L749.44 207.35 L750.48 208.36 L751.51 209.39 L752.55 210.43 L753.59 211.49 L754.62 212.55 L755.66 213.64 L756.70 214.74 L757.73 215.85 L758.77 216.97 L759.81 218.11 L760.84 219.26 L761.88 220.43 L762.91 221.60 L763.95 222.80 L764.99 224.00 L766.02 225.22 L767.06 226.44 L768.10 227.68 L769.13 228.94 L770.17 230.20 L771.21 231.48 L772.24 232.77 L773.28 234.06 L774.31 235.37 L775.35 236.69 L776.39 238.03 L777.42 239.37 L778.46 240.72 L779.50 242.08 L780.53 243.45 L781.57 244.83 L782.60 246.22 L783.64 247.62 L784.68 249.03 L785.71 250.45 L786.75 251.87 L787.79 253.30 L788.82 254.74 L789.86 256.19 L790.90 257.65 L791.93 259.11 L792.97 260.58 L794.00 262.06 L795.04 263.54 L796.08 265.03 L797.11 266.53 L798.15 268.03 L799.19 269.54 L800.22 271.05 L801.26 272.57 L802.30 274.10 L803.33 275.62 L804.37 277.16 L805.40 278.70 L806.44 280.24 L807.48 281.79 L808.51 283.34 L809.55 284.90 L810.59 286.46 L811.62 288.02 L812.66 289.59 L813.69 291.16 L814.73 292.73 L815.77 294.31 L816.80 295.89 L817.84 297.48 L818.88 299.06 L819.91 300.65 L820.95 302.25 L821.99 303.84 L823.02 305.44 L824.06 307.04 L825.09 308.64 L826.13 310.24 L827.17 311.85 L828.20 313.46 L829.24 315.07 L830.28 316.68 L831.31 318.29 L832.35 319.91 L833.39 321.53 L834.42 323.14 L835.46 324.76 L836.49 326.39 L837.53 328.01 L838.57 329.63 L839.60 331.26 L840.64 332.89 L841.68 334.51 L842.71 336.14 L843.75 337.77 L844.79 339.40 L845.82 341.04 L846.86 342.67 L847.89 344.30 L848.93 345.94 L849.97 347.57 L851.00 349.21 L852.04 350.85 L853.08 352.48 L854.11 354.12 L855.15 355.76 L856.18 357.40 L857.22 359.04 L858.26 360.68 L859.29 362.33 L860.33 363.97 L861.37 365.61 L862.40 367.25 L863.44 368.90 L864.48 370.54 L865.51 372.18 L866.55 373.83 L867.58 375.47 L868.62 377.12 L869.66 378.77 L870.69 380.41 L871.73 382.06 L872.77 383.71 L873.80 385.35 L874.84 387.00 L875.88 388.65 L876.91 390.30 L877.95 391.94 L878.98 393.59 L880.02 395.24 L881.06 396.89 L882.09 398.54 L883.13 400.19 L884.17 401.84 L885.20 403.49 L886.24 405.14 L887.28 406.79 L888.31 408.44 L889.35 410.09 L890.38 411.74 L891.42 413.39 L892.46 415.04 L893.49 416.69 L894.53 418.34 L895.57 419.99 L896.60 421.64 L897.64 423.30 L898.67 424.95 L899.71 426.60 L900.75 428.25 L901.78 429.90 L902.82 431.55 L903.86 433.21 L904.89 434.86 L905.93 436.51 L906.97 438.16 L908.00 439.81 L909.04 441.47 L910.07 443.12 L911.11 444.77 L912.15 446.42 L913.18 448.08 L914.22 449.73 L915.26 451.38 L916.29 453.03 L917.33 454.69 L918.37 456.34 L919.40 457.99 L920.44 459.64 L921.47 461.30 L922.51 462.95 L923.55 464.60 L924.58 466.26 L925.62 467.91 L926.66 469.56 L927.69 471.22 L928.73 472.87 L929.77 474.52 L930.80 476.17 L931.84 477.83 L932.87 479.48 L933.91 481.13 L934.95 482.79 L935.98 484.44 L937.02 486.09 L938.06 487.75 L939.09 489.40 L940.13 491.05 L941.16 492.71 L942.20 494.36 L943.24 496.01 L944.27 497.67 L945.31 499.32 L946.35 500.97 L947.38 502.63 L948.42 504.28 L949.46 505.93 L950.49 507.59 L951.53 509.24 L952.56 510.89 L953.60 512.55 L954.64 514.20 L955.67 515.85 L956.71 517.51 L957.75 519.16 L958.78 520.81 L959.82 522.47 L960.86 524.12 L961.89 525.77 L962.93 527.43 L963.96 529.08 L965.00 530.73 L966.04 532.39 L967.07 534.04 L968.11 535.70 L969.15 537.35 L970.18 539.00 L971.22 540.66 L972.26 542.31 L973.29 543.96 L974.33 545.62 L975.36 547.27 L976.40 548.92 L977.44 550.58 L978.47 552.23 L979.51 553.88 L980.55 555.54 L981.58 557.19 L982.62 558.84 L983.65 560.50 L984.69 562.15 L985.73 563.81 L986.76 565.46 L987.80 567.11 L988.84 568.77 L989.87 570.42 L990.91 572.07 L991.95 573.73 L992.98 575.38 L994.02 577.03 L995.05 578.69 L996.09 580.34 L997.13 582.00 L998.16 583.65 L999.20 585.30" fill="none" stroke="#0000ff" stroke-width="5.20" stroke-linejoin="round"/>
<line x1="861.99" y1="422.30" x2="861.99" y2="1.60" stroke="#0000ff" stroke-width="2.67" stroke-dasharray="18.2 10.8"/>
<path d="M609.10 422.30v-2.90 M609.10 1.60v2.90 M627.67 422.30v-2.90 M627.67 1.60v2.90 M640.84 422.30v-2.90 M640.84 1.60v2.90 M651.06 422.30v-2.90 M651.06 1.60v2.90 M659.42 422.30v-2.90 M659.42 1.60v2.90 M666.48 422.30v-2.90 M666.48 1.60v2.90 M672.59 422.30v-2.90 M672.59 1.60v2.90 M677.99 422.30v-2.90 M677.99 1.60v2.90 M682.81 422.30v-2.90 M682.81 1.60v2.90 M714.56 422.30v-2.90 M714.56 1.60v2.90 M733.13 422.30v-2.90 M733.13 1.60v2.90 M746.31 422.30v-2.90 M746.31 1.60v2.90 M756.53 422.30v-2.90 M756.53 1.60v2.90 M764.88 422.30v-2.90 M764.88 1.60v2.90 M771.94 422.30v-2.90 M771.94 1.60v2.90 M778.05 422.30v-2.90 M778.05 1.60v2.90 M783.45 422.30v-2.90 M783.45 1.60v2.90 M788.27 422.30v-5.40 M788.27 1.60v5.40 M820.02 422.30v-2.90 M820.02 1.60v2.90 M838.59 422.30v-2.90 M838.59 1.60v2.90 M851.77 422.30v-2.90 M851.77 1.60v2.90 M861.99 422.30v-2.90 M861.99 1.60v2.90 M870.34 422.30v-2.90 M870.34 1.60v2.90 M877.40 422.30v-2.90 M877.40 1.60v2.90 M883.52 422.30v-2.90 M883.52 1.60v2.90 M888.91 422.30v-2.90 M888.91 1.60v2.90 M893.74 422.30v-2.90 M893.74 1.60v2.90 M925.48 422.30v-2.90 M925.48 1.60v2.90 M944.06 422.30v-2.90 M944.06 1.60v2.90 M957.23 422.30v-2.90 M957.23 1.60v2.90 M967.45 422.30v-2.90 M967.45 1.60v2.90 M975.80 422.30v-2.90 M975.80 1.60v2.90 M982.86 422.30v-2.90 M982.86 1.60v2.90 M988.98 422.30v-2.90 M988.98 1.60v2.90 M994.37 422.30v-2.90 M994.37 1.60v2.90 M999.20 422.30v-5.40 M999.20 1.60v5.40 M585.70 422.30h5.40 M999.20 422.30h-5.40 M585.70 396.97h2.90 M999.20 396.97h-2.90 M585.70 382.16h2.90 M999.20 382.16h-2.90 M585.70 371.64h2.90 M999.20 371.64h-2.90 M585.70 363.49h2.90 M999.20 363.49h-2.90 M585.70 356.83h2.90 M999.20 356.83h-2.90 M585.70 351.19h2.90 M999.20 351.19h-2.90 M585.70 346.31h2.90 M999.20 346.31h-2.90 M585.70 342.01h2.90 M999.20 342.01h-2.90 M585.70 338.16h2.90 M999.20 338.16h-2.90 M585.70 312.83h2.90 M999.20 312.83h-2.90 M585.70 298.02h2.90 M999.20 298.02h-2.90 M585.70 287.50h2.90 M999.20 287.50h-2.90 M585.70 279.35h2.90 M999.20 279.35h-2.90 M585.70 272.69h2.90 M999.20 272.69h-2.90 M585.70 267.05h2.90 M999.20 267.05h-2.90 M585.70 262.17h2.90 M999.20 262.17h-2.90 M585.70 257.87h2.90 M999.20 257.87h-2.90 M585.70 254.02h5.40 M999.20 254.02h-5.40 M585.70 228.69h2.90 M999.20 228.69h-2.90 M585.70 213.88h2.90 M999.20 213.88h-2.90 M585.70 203.36h2.90 M999.20 203.36h-2.90 M585.70 195.21h2.90 M999.20 195.21h-2.90 M585.70 188.55h2.90 M999.20 188.55h-2.90 M585.70 182.91h2.90 M999.20 182.91h-2.90 M585.70 178.03h2.90 M999.20 178.03h-2.90 M585.70 173.73h2.90 M999.20 173.73h-2.90 M585.70 169.88h2.90 M999.20 169.88h-2.90 M585.70 144.55h2.90 M999.20 144.55h-2.90 M585.70 129.74h2.90 M999.20 129.74h-2.90 M585.70 119.22h2.90 M999.20 119.22h-2.90 M585.70 111.07h2.90 M999.20 111.07h-2.90 M585.70 104.41h2.90 M999.20 104.41h-2.90 M585.70 98.77h2.90 M999.20 98.77h-2.90 M585.70 93.89h2.90 M999.20 93.89h-2.90 M585.70 89.59h2.90 M999.20 89.59h-2.90 M585.70 85.74h5.40 M999.20 85.74h-5.40 M585.70 60.41h2.90 M999.20 60.41h-2.90 M585.70 45.60h2.90 M999.20 45.60h-2.90 M585.70 35.08h2.90 M999.20 35.08h-2.90 M585.70 26.93h2.90 M999.20 26.93h-2.90 M585.70 20.27h2.90 M999.20 20.27h-2.90 M585.70 14.63h2.90 M999.20 14.63h-2.90 M585.70 9.75h2.90 M999.20 9.75h-2.90 M585.70 5.45h2.90 M999.20 5.45h-2.90 M585.70 1.60h2.90 M999.20 1.60h-2.90" stroke="#262626" stroke-width="1.33" fill="none"/>
<rect x="585.70" y="1.60" width="413.50" height="420.70" fill="none" stroke="#262626" stroke-width="1.33"/>
</g>
<g id="axBL">
<line x1="354.82" y1="447.80" x2="354.82" y2="868.40" stroke="#dedede" stroke-width="1.33"/>
<line x1="152.20" y1="531.92" x2="565.80" y2="531.92" stroke="#dedede" stroke-width="1.33"/>
<line x1="152.20" y1="700.16" x2="565.80" y2="700.16" stroke="#dedede" stroke-width="1.33"/>
<path clip-path="url(#cBL)" d="M152.20 532.00 L153.24 532.00 L154.27 532.00 L155.31 532.01 L156.35 532.01 L157.38 532.01 L158.42 532.02 L159.45 532.02 L160.49 532.02 L161.53 532.03 L162.56 532.03 L163.60 532.04 L164.64 532.04 L165.67 532.04 L166.71 532.05 L167.75 532.05 L168.78 532.06 L169.82 532.07 L170.85 532.07 L171.89 532.08 L172.93 532.08 L173.96 532.09 L175.00 532.10 L176.04 532.10 L177.07 532.11 L178.11 532.12 L179.14 532.13 L180.18 532.14 L181.22 532.15 L182.25 532.16 L183.29 532.17 L184.33 532.18 L185.36 532.19 L186.40 532.20 L187.44 532.21 L188.47 532.22 L189.51 532.24 L190.54 532.25 L191.58 532.26 L192.62 532.28 L193.65 532.29 L194.69 532.31 L195.73 532.33 L196.76 532.34 L197.80 532.36 L198.84 532.38 L199.87 532.40 L200.91 532.42 L201.94 532.44 L202.98 532.47 L204.02 532.49 L205.05 532.52 L206.09 532.54 L207.13 532.57 L208.16 532.60 L209.20 532.63 L210.24 532.66 L211.27 532.69 L212.31 532.73 L213.34 532.76 L214.38 532.80 L215.42 532.84 L216.45 532.88 L217.49 532.92 L218.53 532.96 L219.56 533.01 L220.60 533.05 L221.63 533.10 L222.67 533.16 L223.71 533.21 L224.74 533.27 L225.78 533.32 L226.82 533.39 L227.85 533.45 L228.89 533.52 L229.93 533.58 L230.96 533.66 L232.00 533.73 L233.03 533.81 L234.07 533.89 L235.11 533.97 L236.14 534.06 L237.18 534.15 L238.22 534.25 L239.25 534.35 L240.29 534.45 L241.33 534.55 L242.36 534.66 L243.40 534.78 L244.43 534.90 L245.47 535.02 L246.51 535.15 L247.54 535.28 L248.58 535.42 L249.62 535.56 L250.65 535.71 L251.69 535.86 L252.73 536.02 L253.76 536.18 L254.80 536.35 L255.83 536.52 L256.87 536.70 L257.91 536.89 L258.94 537.08 L259.98 537.27 L261.02 537.48 L262.05 537.69 L263.09 537.90 L264.12 538.13 L265.16 538.35 L266.20 538.59 L267.23 538.83 L268.27 539.08 L269.31 539.33 L270.34 539.60 L271.38 539.86 L272.42 540.14 L273.45 540.42 L274.49 540.71 L275.52 541.00 L276.56 541.30 L277.60 541.61 L278.63 541.92 L279.67 542.24 L280.71 542.57 L281.74 542.90 L282.78 543.24 L283.82 543.58 L284.85 543.93 L285.89 544.28 L286.92 544.64 L287.96 545.01 L289.00 545.38 L290.03 545.75 L291.07 546.13 L292.11 546.51 L293.14 546.90 L294.18 547.29 L295.22 547.69 L296.25 548.08 L297.29 548.48 L298.32 548.89 L299.36 549.29 L300.40 549.70 L301.43 550.11 L302.47 550.52 L303.51 550.93 L304.54 551.34 L305.58 551.76 L306.61 552.17 L307.65 552.58 L308.69 553.00 L309.72 553.41 L310.76 553.82 L311.80 554.23 L312.83 554.64 L313.87 555.04 L314.91 555.45 L315.94 555.85 L316.98 556.25 L318.01 556.64 L319.05 557.03 L320.09 557.42 L321.12 557.80 L322.16 558.18 L323.20 558.56 L324.23 558.93 L325.27 559.30 L326.31 559.66 L327.34 560.01 L328.38 560.36 L329.41 560.71 L330.45 561.05 L331.49 561.38 L332.52 561.71 L333.56 562.03 L334.60 562.34 L335.63 562.65 L336.67 562.95 L337.71 563.25 L338.74 563.54 L339.78 563.82 L340.81 564.10 L341.85 564.37 L342.89 564.63 L343.92 564.89 L344.96 565.14 L346.00 565.38 L347.03 565.62 L348.07 565.85 L349.10 566.07 L350.14 566.29 L351.18 566.50 L352.21 566.70 L353.25 566.90 L354.29 567.09 L355.32 567.28 L356.36 567.46 L357.40 567.64 L358.43 567.81 L359.47 567.97 L360.50 568.13 L361.54 568.28 L362.58 568.43 L363.61 568.58 L364.65 568.71 L365.69 568.85 L366.72 568.98 L367.76 569.10 L368.80 569.22 L369.83 569.33 L370.87 569.45 L371.90 569.55 L372.94 569.66 L373.98 569.76 L375.01 569.85 L376.05 569.94 L377.09 570.03 L378.12 570.12 L379.16 570.20 L380.19 570.28 L381.23 570.35 L382.27 570.42 L383.30 570.49 L384.34 570.56 L385.38 570.62 L386.41 570.69 L387.45 570.75 L388.49 570.80 L389.52 570.86 L390.56 570.91 L391.59 570.96 L392.63 571.01 L393.67 571.05 L394.70 571.10 L395.74 571.14 L396.78 571.18 L397.81 571.22 L398.85 571.26 L399.89 571.29 L400.92 571.33 L401.96 571.36 L402.99 571.39 L404.03 571.42 L405.07 571.45 L406.10 571.48 L407.14 571.50 L408.18 571.53 L409.21 571.55 L410.25 571.58 L411.29 571.60 L412.32 571.62 L413.36 571.64 L414.39 571.66 L415.43 571.68 L416.47 571.69 L417.50 571.71 L418.54 571.73 L419.58 571.74 L420.61 571.76 L421.65 571.77 L422.68 571.79 L423.72 571.80 L424.76 571.81 L425.79 571.82 L426.83 571.84 L427.87 571.85 L428.90 571.86 L429.94 571.87 L430.98 571.88 L432.01 571.89 L433.05 571.89 L434.08 571.90 L435.12 571.91 L436.16 571.92 L437.19 571.93 L438.23 571.93 L439.27 571.94 L440.30 571.95 L441.34 571.95 L442.38 571.96 L443.41 571.96 L444.45 571.97 L445.48 571.97 L446.52 571.98 L447.56 571.98 L448.59 571.99 L449.63 571.99 L450.67 572.00 L451.70 572.00 L452.74 572.00 L453.78 572.01 L454.81 572.01 L455.85 572.01 L456.88 572.02 L457.92 572.02 L458.96 572.02 L459.99 572.03 L461.03 572.03 L462.07 572.03 L463.10 572.03 L464.14 572.04 L465.17 572.04 L466.21 572.04 L467.25 572.04 L468.28 572.04 L469.32 572.05 L470.36 572.05 L471.39 572.05 L472.43 572.05 L473.47 572.05 L474.50 572.05 L475.54 572.06 L476.57 572.06 L477.61 572.06 L478.65 572.06 L479.68 572.06 L480.72 572.06 L481.76 572.06 L482.79 572.06 L483.83 572.06 L484.87 572.07 L485.90 572.07 L486.94 572.07 L487.97 572.07 L489.01 572.07 L490.05 572.07 L491.08 572.07 L492.12 572.07 L493.16 572.07 L494.19 572.07 L495.23 572.07 L496.27 572.07 L497.30 572.07 L498.34 572.07 L499.37 572.07 L500.41 572.07 L501.45 572.08 L502.48 572.08 L503.52 572.08 L504.56 572.08 L505.59 572.08 L506.63 572.08 L507.66 572.08 L508.70 572.08 L509.74 572.08 L510.77 572.08 L511.81 572.08 L512.85 572.08 L513.88 572.08 L514.92 572.08 L515.96 572.08 L516.99 572.08 L518.03 572.08 L519.06 572.08 L520.10 572.08 L521.14 572.08 L522.17 572.08 L523.21 572.08 L524.25 572.08 L525.28 572.08 L526.32 572.08 L527.36 572.08 L528.39 572.08 L529.43 572.08 L530.46 572.08 L531.50 572.08 L532.54 572.08 L533.57 572.08 L534.61 572.08 L535.65 572.08 L536.68 572.08 L537.72 572.08 L538.76 572.08 L539.79 572.08 L540.83 572.08 L541.86 572.08 L542.90 572.08 L543.94 572.08 L544.97 572.08 L546.01 572.08 L547.05 572.08 L548.08 572.08 L549.12 572.08 L550.15 572.08 L551.19 572.08 L552.23 572.08 L553.26 572.08 L554.30 572.08 L555.34 572.08 L556.37 572.08 L557.41 572.08 L558.45 572.08 L559.48 572.08 L560.52 572.08 L561.55 572.08 L562.59 572.08 L563.63 572.08 L564.66 572.08 L565.70 572.08" fill="none" stroke="#000000" stroke-width="5.20" stroke-linejoin="round"/>
<path clip-path="url(#cBL)" d="M152.20 707.07 L153.24 707.04 L154.27 707.01 L155.31 706.98 L156.35 706.94 L157.38 706.91 L158.42 706.87 L159.45 706.83 L160.49 706.79 L161.53 706.75 L162.56 706.70 L163.60 706.66 L164.64 706.61 L165.67 706.56 L166.71 706.50 L167.75 706.45 L168.78 706.39 L169.82 706.33 L170.85 706.27 L171.89 706.20 L172.93 706.13 L173.96 706.06 L175.00 705.99 L176.04 705.91 L177.07 705.83 L178.11 705.74 L179.14 705.66 L180.18 705.56 L181.22 705.47 L182.25 705.37 L183.29 705.27 L184.33 705.16 L185.36 705.05 L186.40 704.93 L187.44 704.81 L188.47 704.68 L189.51 704.55 L190.54 704.42 L191.58 704.28 L192.62 704.13 L193.65 703.98 L194.69 703.82 L195.73 703.66 L196.76 703.49 L197.80 703.31 L198.84 703.13 L199.87 702.94 L200.91 702.74 L201.94 702.54 L202.98 702.33 L204.02 702.11 L205.05 701.88 L206.09 701.65 L207.13 701.41 L208.16 701.16 L209.20 700.90 L210.24 700.63 L211.27 700.36 L212.31 700.07 L213.34 699.78 L214.38 699.48 L215.42 699.17 L216.45 698.85 L217.49 698.52 L218.53 698.18 L219.56 697.83 L220.60 697.47 L221.63 697.11 L222.67 696.73 L223.71 696.34 L224.74 695.94 L225.78 695.53 L226.82 695.11 L227.85 694.69 L228.89 694.25 L229.93 693.80 L230.96 693.34 L232.00 692.87 L233.03 692.39 L234.07 691.89 L235.11 691.39 L236.14 690.88 L237.18 690.36 L238.22 689.83 L239.25 689.29 L240.29 688.73 L241.33 688.17 L242.36 687.60 L243.40 687.02 L244.43 686.43 L245.47 685.83 L246.51 685.22 L247.54 684.60 L248.58 683.98 L249.62 683.34 L250.65 682.70 L251.69 682.04 L252.73 681.38 L253.76 680.71 L254.80 680.04 L255.83 679.35 L256.87 678.66 L257.91 677.96 L258.94 677.26 L259.98 676.55 L261.02 675.83 L262.05 675.10 L263.09 674.38 L264.12 673.64 L265.16 672.90 L266.20 672.16 L267.23 671.41 L268.27 670.66 L269.31 669.90 L270.34 669.14 L271.38 668.38 L272.42 667.62 L273.45 666.85 L274.49 666.08 L275.52 665.31 L276.56 664.54 L277.60 663.77 L278.63 663.00 L279.67 662.23 L280.71 661.46 L281.74 660.69 L282.78 659.92 L283.82 659.16 L284.85 658.39 L285.89 657.63 L286.92 656.88 L287.96 656.12 L289.00 655.37 L290.03 654.63 L291.07 653.89 L292.11 653.15 L293.14 652.42 L294.18 651.70 L295.22 650.98 L296.25 650.27 L297.29 649.57 L298.32 648.87 L299.36 648.18 L300.40 647.50 L301.43 646.83 L302.47 646.17 L303.51 645.52 L304.54 644.87 L305.58 644.24 L306.61 643.61 L307.65 643.00 L308.69 642.39 L309.72 641.80 L310.76 641.21 L311.80 640.64 L312.83 640.08 L313.87 639.53 L314.91 638.99 L315.94 638.46 L316.98 637.94 L318.01 637.43 L319.05 636.94 L320.09 636.45 L321.12 635.98 L322.16 635.52 L323.20 635.07 L324.23 634.63 L325.27 634.20 L326.31 633.79 L327.34 633.38 L328.38 632.99 L329.41 632.61 L330.45 632.23 L331.49 631.87 L332.52 631.52 L333.56 631.18 L334.60 630.85 L335.63 630.53 L336.67 630.22 L337.71 629.92 L338.74 629.63 L339.78 629.34 L340.81 629.07 L341.85 628.81 L342.89 628.55 L343.92 628.30 L344.96 628.07 L346.00 627.84 L347.03 627.61 L348.07 627.40 L349.10 627.19 L350.14 626.99 L351.18 626.80 L352.21 626.62 L353.25 626.44 L354.29 626.27 L355.32 626.10 L356.36 625.94 L357.40 625.79 L358.43 625.64 L359.47 625.50 L360.50 625.36 L361.54 625.23 L362.58 625.11 L363.61 624.99 L364.65 624.87 L365.69 624.76 L366.72 624.65 L367.76 624.55 L368.80 624.45 L369.83 624.35 L370.87 624.26 L371.90 624.18 L372.94 624.09 L373.98 624.01 L375.01 623.94 L376.05 623.86 L377.09 623.79 L378.12 623.72 L379.16 623.66 L380.19 623.60 L381.23 623.54 L382.27 623.48 L383.30 623.42 L384.34 623.37 L385.38 623.32 L386.41 623.27 L387.45 623.23 L388.49 623.18 L389.52 623.14 L390.56 623.10 L391.59 623.06 L392.63 623.02 L393.67 622.99 L394.70 622.95 L395.74 622.92 L396.78 622.89 L397.81 622.86 L398.85 622.83 L399.89 622.80 L400.92 622.78 L401.96 622.75 L402.99 622.73 L404.03 622.71 L405.07 622.68 L406.10 622.66 L407.14 622.64 L408.18 622.62 L409.21 622.60 L410.25 622.59 L411.29 622.57 L412.32 622.55 L413.36 622.54 L414.39 622.52 L415.43 622.51 L416.47 622.50 L417.50 622.48 L418.54 622.47 L419.58 622.46 L420.61 622.45 L421.65 622.44 L422.68 622.43 L423.72 622.42 L424.76 622.41 L425.79 622.40 L426.83 622.39 L427.87 622.38 L428.90 622.37 L429.94 622.37 L430.98 622.36 L432.01 622.35 L433.05 622.35 L434.08 622.34 L435.12 622.33 L436.16 622.33 L437.19 622.32 L438.23 622.32 L439.27 622.31 L440.30 622.31 L441.34 622.30 L442.38 622.30 L443.41 622.29 L444.45 622.29 L445.48 622.29 L446.52 622.28 L447.56 622.28 L448.59 622.28 L449.63 622.27 L450.67 622.27 L451.70 622.27 L452.74 622.26 L453.78 622.26 L454.81 622.26 L455.85 622.26 L456.88 622.25 L457.92 622.25 L458.96 622.25 L459.99 622.25 L461.03 622.25 L462.07 622.24 L463.10 622.24 L464.14 622.24 L465.17 622.24 L466.21 622.24 L467.25 622.24 L468.28 622.23 L469.32 622.23 L470.36 622.23 L471.39 622.23 L472.43 622.23 L473.47 622.23 L474.50 622.23 L475.54 622.23 L476.57 622.23 L477.61 622.22 L478.65 622.22 L479.68 622.22 L480.72 622.22 L481.76 622.22 L482.79 622.22 L483.83 622.22 L484.87 622.22 L485.90 622.22 L486.94 622.22 L487.97 622.22 L489.01 622.22 L490.05 622.22 L491.08 622.22 L492.12 622.21 L493.16 622.21 L494.19 622.21 L495.23 622.21 L496.27 622.21 L497.30 622.21 L498.34 622.21 L499.37 622.21 L500.41 622.21 L501.45 622.21 L502.48 622.21 L503.52 622.21 L504.56 622.21 L505.59 622.21 L506.63 622.21 L507.66 622.21 L508.70 622.21 L509.74 622.21 L510.77 622.21 L511.81 622.21 L512.85 622.21 L513.88 622.21 L514.92 622.21 L515.96 622.21 L516.99 622.21 L518.03 622.21 L519.06 622.21 L520.10 622.21 L521.14 622.21 L522.17 622.21 L523.21 622.21 L524.25 622.21 L525.28 622.21 L526.32 622.21 L527.36 622.21 L528.39 622.21 L529.43 622.21 L530.46 622.21 L531.50 622.21 L532.54 622.21 L533.57 622.21 L534.61 622.21 L535.65 622.21 L536.68 622.21 L537.72 622.21 L538.76 622.21 L539.79 622.21 L540.83 622.21 L541.86 622.21 L542.90 622.21 L543.94 622.21 L544.97 622.21 L546.01 622.20 L547.05 622.20 L548.08 622.20 L549.12 622.20 L550.15 622.20 L551.19 622.20 L552.23 622.20 L553.26 622.20 L554.30 622.20 L555.34 622.20 L556.37 622.20 L557.41 622.20 L558.45 622.20 L559.48 622.20 L560.52 622.20 L561.55 622.20 L562.59 622.20 L563.63 622.20 L564.66 622.20 L565.70 622.20" fill="none" stroke="#ff0000" stroke-width="5.20" stroke-linejoin="round"/>
<line x1="249.34" y1="868.40" x2="249.34" y2="447.80" stroke="#ff0000" stroke-width="2.67" stroke-dasharray="18.2 10.8"/>
<path clip-path="url(#cBL)" d="M152.20 613.01 L153.24 613.01 L154.27 613.01 L155.31 613.02 L156.35 613.02 L157.38 613.02 L158.42 613.03 L159.45 613.03 L160.49 613.04 L161.53 613.04 L162.56 613.05 L163.60 613.05 L164.64 613.06 L165.67 613.07 L166.71 613.07 L167.75 613.08 L168.78 613.09 L169.82 613.09 L170.85 613.10 L171.89 613.11 L172.93 613.12 L173.96 613.12 L175.00 613.13 L176.04 613.14 L177.07 613.15 L178.11 613.16 L179.14 613.17 L180.18 613.18 L181.22 613.20 L182.25 613.21 L183.29 613.22 L184.33 613.23 L185.36 613.25 L186.40 613.26 L187.44 613.28 L188.47 613.29 L189.51 613.31 L190.54 613.33 L191.58 613.35 L192.62 613.37 L193.65 613.39 L194.69 613.41 L195.73 613.43 L196.76 613.45 L197.80 613.47 L198.84 613.50 L199.87 613.53 L200.91 613.55 L201.94 613.58 L202.98 613.61 L204.02 613.64 L205.05 613.67 L206.09 613.71 L207.13 613.74 L208.16 613.78 L209.20 613.82 L210.24 613.86 L211.27 613.90 L212.31 613.95 L213.34 613.99 L214.38 614.04 L215.42 614.09 L216.45 614.14 L217.49 614.20 L218.53 614.25 L219.56 614.31 L220.60 614.37 L221.63 614.44 L222.67 614.51 L223.71 614.58 L224.74 614.65 L225.78 614.73 L226.82 614.81 L227.85 614.89 L228.89 614.98 L229.93 615.07 L230.96 615.16 L232.00 615.26 L233.03 615.36 L234.07 615.47 L235.11 615.58 L236.14 615.70 L237.18 615.82 L238.22 615.94 L239.25 616.07 L240.29 616.21 L241.33 616.35 L242.36 616.50 L243.40 616.65 L244.43 616.81 L245.47 616.98 L246.51 617.15 L247.54 617.33 L248.58 617.51 L249.62 617.70 L250.65 617.90 L251.69 618.11 L252.73 618.33 L253.76 618.55 L254.80 618.78 L255.83 619.02 L256.87 619.27 L257.91 619.52 L258.94 619.79 L259.98 620.06 L261.02 620.35 L262.05 620.64 L263.09 620.95 L264.12 621.26 L265.16 621.59 L266.20 621.92 L267.23 622.27 L268.27 622.63 L269.31 623.00 L270.34 623.38 L271.38 623.77 L272.42 624.17 L273.45 624.59 L274.49 625.02 L275.52 625.46 L276.56 625.91 L277.60 626.38 L278.63 626.86 L279.67 627.35 L280.71 627.85 L281.74 628.37 L282.78 628.90 L283.82 629.45 L284.85 630.01 L285.89 630.58 L286.92 631.17 L287.96 631.77 L289.00 632.39 L290.03 633.02 L291.07 633.66 L292.11 634.32 L293.14 634.99 L294.18 635.68 L295.22 636.38 L296.25 637.10 L297.29 637.83 L298.32 638.58 L299.36 639.34 L300.40 640.12 L301.43 640.91 L302.47 641.72 L303.51 642.54 L304.54 643.37 L305.58 644.23 L306.61 645.09 L307.65 645.97 L308.69 646.87 L309.72 647.78 L310.76 648.70 L311.80 649.64 L312.83 650.60 L313.87 651.57 L314.91 652.55 L315.94 653.55 L316.98 654.56 L318.01 655.59 L319.05 656.63 L320.09 657.69 L321.12 658.75 L322.16 659.84 L323.20 660.94 L324.23 662.05 L325.27 663.17 L326.31 664.31 L327.34 665.46 L328.38 666.63 L329.41 667.80 L330.45 669.00 L331.49 670.20 L332.52 671.42 L333.56 672.64 L334.60 673.88 L335.63 675.14 L336.67 676.40 L337.71 677.68 L338.74 678.97 L339.78 680.26 L340.81 681.57 L341.85 682.89 L342.89 684.23 L343.92 685.57 L344.96 686.92 L346.00 688.28 L347.03 689.65 L348.07 691.03 L349.10 692.42 L350.14 693.82 L351.18 695.23 L352.21 696.65 L353.25 698.07 L354.29 699.50 L355.32 700.94 L356.36 702.39 L357.40 703.85 L358.43 705.31 L359.47 706.78 L360.50 708.26 L361.54 709.74 L362.58 711.23 L363.61 712.73 L364.65 714.23 L365.69 715.74 L366.72 717.25 L367.76 718.77 L368.80 720.30 L369.83 721.82 L370.87 723.36 L371.90 724.90 L372.94 726.44 L373.98 727.99 L375.01 729.54 L376.05 731.10 L377.09 732.66 L378.12 734.22 L379.16 735.79 L380.19 737.36 L381.23 738.93 L382.27 740.51 L383.30 742.09 L384.34 743.68 L385.38 745.26 L386.41 746.85 L387.45 748.45 L388.49 750.04 L389.52 751.64 L390.56 753.24 L391.59 754.84 L392.63 756.44 L393.67 758.05 L394.70 759.66 L395.74 761.27 L396.78 762.88 L397.81 764.49 L398.85 766.11 L399.89 767.73 L400.92 769.34 L401.96 770.96 L402.99 772.59 L404.03 774.21 L405.07 775.83 L406.10 777.46 L407.14 779.09 L408.18 780.71 L409.21 782.34 L410.25 783.97 L411.29 785.60 L412.32 787.24 L413.36 788.87 L414.39 790.50 L415.43 792.14 L416.47 793.77 L417.50 795.41 L418.54 797.05 L419.58 798.68 L420.61 800.32 L421.65 801.96 L422.68 803.60 L423.72 805.24 L424.76 806.88 L425.79 808.53 L426.83 810.17 L427.87 811.81 L428.90 813.45 L429.94 815.10 L430.98 816.74 L432.01 818.38 L433.05 820.03 L434.08 821.67 L435.12 823.32 L436.16 824.97 L437.19 826.61 L438.23 828.26 L439.27 829.91 L440.30 831.55 L441.34 833.20 L442.38 834.85 L443.41 836.50 L444.45 838.14 L445.48 839.79 L446.52 841.44 L447.56 843.09 L448.59 844.74 L449.63 846.39 L450.67 848.04 L451.70 849.69 L452.74 851.34 L453.78 852.99 L454.81 854.64 L455.85 856.29 L456.88 857.94 L457.92 859.59 L458.96 861.24 L459.99 862.89 L461.03 864.54 L462.07 866.19 L463.10 867.84 L464.14 869.50 L465.17 871.15 L466.21 872.80 L467.25 874.45 L468.28 876.10 L469.32 877.75 L470.36 879.41 L471.39 881.06 L472.43 882.71 L473.47 884.36 L474.50 886.01 L475.54 887.67 L476.57 889.32 L477.61 890.97 L478.65 892.62 L479.68 894.28 L480.72 895.93 L481.76 897.58 L482.79 899.23 L483.83 900.89 L484.87 902.54 L485.90 904.19 L486.94 905.84 L487.97 907.50 L489.01 909.15 L490.05 910.80 L491.08 912.46 L492.12 914.11 L493.16 915.76 L494.19 917.42 L495.23 919.07 L496.27 920.72 L497.30 922.37 L498.34 924.03 L499.37 925.68 L500.41 927.33 L501.45 928.99 L502.48 930.64 L503.52 932.29 L504.56 933.95 L505.59 935.60 L506.63 937.25 L507.66 938.91 L508.70 940.56 L509.74 942.21 L510.77 943.87 L511.81 945.52 L512.85 947.17 L513.88 948.83 L514.92 950.48 L515.96 952.13 L516.99 953.79 L518.03 955.44 L519.06 957.09 L520.10 958.75 L521.14 960.40 L522.17 962.05 L523.21 963.71 L524.25 965.36 L525.28 967.01 L526.32 968.67 L527.36 970.32 L528.39 971.97 L529.43 973.63 L530.46 975.28 L531.50 976.93 L532.54 978.59 L533.57 980.24 L534.61 981.90 L535.65 983.55 L536.68 985.20 L537.72 986.86 L538.76 988.51 L539.79 990.16 L540.83 991.82 L541.86 993.47 L542.90 995.12 L543.94 996.78 L544.97 998.43 L546.01 1000.08 L547.05 1001.74 L548.08 1003.39 L549.12 1005.04 L550.15 1006.70 L551.19 1008.35 L552.23 1010.01 L553.26 1011.66 L554.30 1013.31 L555.34 1014.97 L556.37 1016.62 L557.41 1018.27 L558.45 1019.93 L559.48 1021.58 L560.52 1023.23 L561.55 1024.89 L562.59 1026.54 L563.63 1028.20 L564.66 1029.85 L565.70 1031.50" fill="none" stroke="#0000ff" stroke-width="5.20" stroke-linejoin="round"/>
<line x1="428.56" y1="868.40" x2="428.56" y2="447.80" stroke="#0000ff" stroke-width="2.67" stroke-dasharray="18.2 10.8"/>
<path d="M175.60 868.40v-2.90 M175.60 447.80v2.90 M194.18 868.40v-2.90 M194.18 447.80v2.90 M207.36 868.40v-2.90 M207.36 447.80v2.90 M217.58 868.40v-2.90 M217.58 447.80v2.90 M225.93 868.40v-2.90 M225.93 447.80v2.90 M233.00 868.40v-2.90 M233.00 447.80v2.90 M239.11 868.40v-2.90 M239.11 447.80v2.90 M244.51 868.40v-2.90 M244.51 447.80v2.90 M249.34 868.40v-2.90 M249.34 447.80v2.90 M281.09 868.40v-2.90 M281.09 447.80v2.90 M299.67 868.40v-2.90 M299.67 447.80v2.90 M312.85 868.40v-2.90 M312.85 447.80v2.90 M323.07 868.40v-2.90 M323.07 447.80v2.90 M331.42 868.40v-2.90 M331.42 447.80v2.90 M338.48 868.40v-2.90 M338.48 447.80v2.90 M344.60 868.40v-2.90 M344.60 447.80v2.90 M350.00 868.40v-2.90 M350.00 447.80v2.90 M354.82 868.40v-5.40 M354.82 447.80v5.40 M386.58 868.40v-2.90 M386.58 447.80v2.90 M405.15 868.40v-2.90 M405.15 447.80v2.90 M418.33 868.40v-2.90 M418.33 447.80v2.90 M428.56 868.40v-2.90 M428.56 447.80v2.90 M436.91 868.40v-2.90 M436.91 447.80v2.90 M443.97 868.40v-2.90 M443.97 447.80v2.90 M450.09 868.40v-2.90 M450.09 447.80v2.90 M455.48 868.40v-2.90 M455.48 447.80v2.90 M460.31 868.40v-2.90 M460.31 447.80v2.90 M492.07 868.40v-2.90 M492.07 447.80v2.90 M510.64 868.40v-2.90 M510.64 447.80v2.90 M523.82 868.40v-2.90 M523.82 447.80v2.90 M534.04 868.40v-2.90 M534.04 447.80v2.90 M542.40 868.40v-2.90 M542.40 447.80v2.90 M549.46 868.40v-2.90 M549.46 447.80v2.90 M555.58 868.40v-2.90 M555.58 447.80v2.90 M560.97 868.40v-2.90 M560.97 447.80v2.90 M565.80 868.40v-5.40 M565.80 447.80v5.40 M152.20 868.40h5.40 M565.80 868.40h-5.40 M152.20 843.08h2.90 M565.80 843.08h-2.90 M152.20 828.26h2.90 M565.80 828.26h-2.90 M152.20 817.75h2.90 M565.80 817.75h-2.90 M152.20 809.60h2.90 M565.80 809.60h-2.90 M152.20 802.94h2.90 M565.80 802.94h-2.90 M152.20 797.31h2.90 M565.80 797.31h-2.90 M152.20 792.43h2.90 M565.80 792.43h-2.90 M152.20 788.13h2.90 M565.80 788.13h-2.90 M152.20 784.28h2.90 M565.80 784.28h-2.90 M152.20 758.96h2.90 M565.80 758.96h-2.90 M152.20 744.14h2.90 M565.80 744.14h-2.90 M152.20 733.63h2.90 M565.80 733.63h-2.90 M152.20 725.48h2.90 M565.80 725.48h-2.90 M152.20 718.82h2.90 M565.80 718.82h-2.90 M152.20 713.19h2.90 M565.80 713.19h-2.90 M152.20 708.31h2.90 M565.80 708.31h-2.90 M152.20 704.01h2.90 M565.80 704.01h-2.90 M152.20 700.16h5.40 M565.80 700.16h-5.40 M152.20 674.84h2.90 M565.80 674.84h-2.90 M152.20 660.02h2.90 M565.80 660.02h-2.90 M152.20 649.51h2.90 M565.80 649.51h-2.90 M152.20 641.36h2.90 M565.80 641.36h-2.90 M152.20 634.70h2.90 M565.80 634.70h-2.90 M152.20 629.07h2.90 M565.80 629.07h-2.90 M152.20 624.19h2.90 M565.80 624.19h-2.90 M152.20 619.89h2.90 M565.80 619.89h-2.90 M152.20 616.04h2.90 M565.80 616.04h-2.90 M152.20 590.72h2.90 M565.80 590.72h-2.90 M152.20 575.90h2.90 M565.80 575.90h-2.90 M152.20 565.39h2.90 M565.80 565.39h-2.90 M152.20 557.24h2.90 M565.80 557.24h-2.90 M152.20 550.58h2.90 M565.80 550.58h-2.90 M152.20 544.95h2.90 M565.80 544.95h-2.90 M152.20 540.07h2.90 M565.80 540.07h-2.90 M152.20 535.77h2.90 M565.80 535.77h-2.90 M152.20 531.92h5.40 M565.80 531.92h-5.40 M152.20 506.60h2.90 M565.80 506.60h-2.90 M152.20 491.78h2.90 M565.80 491.78h-2.90 M152.20 481.27h2.90 M565.80 481.27h-2.90 M152.20 473.12h2.90 M565.80 473.12h-2.90 M152.20 466.46h2.90 M565.80 466.46h-2.90 M152.20 460.83h2.90 M565.80 460.83h-2.90 M152.20 455.95h2.90 M565.80 455.95h-2.90 M152.20 451.65h2.90 M565.80 451.65h-2.90 M152.20 447.80h2.90 M565.80 447.80h-2.90" stroke="#262626" stroke-width="1.33" fill="none"/>
<rect x="152.20" y="447.80" width="413.60" height="420.60" fill="none" stroke="#262626" stroke-width="1.33"/>
</g>
<g id="axBR">
<line x1="788.27" y1="447.80" x2="788.27" y2="868.40" stroke="#dedede" stroke-width="1.33"/>
<line x1="585.70" y1="531.92" x2="999.20" y2="531.92" stroke="#dedede" stroke-width="1.33"/>
<line x1="585.70" y1="700.16" x2="999.20" y2="700.16" stroke="#dedede" stroke-width="1.33"/>
<path clip-path="url(#cBR)" d="M585.70 506.65 L586.74 506.65 L587.77 506.65 L588.81 506.65 L589.85 506.65 L590.88 506.66 L591.92 506.66 L592.96 506.66 L593.99 506.66 L595.03 506.67 L596.07 506.67 L597.10 506.67 L598.14 506.67 L599.18 506.68 L600.21 506.68 L601.25 506.68 L602.29 506.69 L603.32 506.69 L604.36 506.69 L605.40 506.70 L606.43 506.70 L607.47 506.71 L608.51 506.71 L609.54 506.71 L610.58 506.72 L611.61 506.72 L612.65 506.73 L613.69 506.73 L614.72 506.74 L615.76 506.75 L616.80 506.75 L617.83 506.76 L618.87 506.77 L619.91 506.77 L620.94 506.78 L621.98 506.79 L623.02 506.80 L624.05 506.80 L625.09 506.81 L626.13 506.82 L627.16 506.83 L628.20 506.84 L629.24 506.85 L630.27 506.86 L631.31 506.87 L632.35 506.89 L633.38 506.90 L634.42 506.91 L635.46 506.92 L636.49 506.94 L637.53 506.95 L638.57 506.97 L639.60 506.99 L640.64 507.00 L641.68 507.02 L642.71 507.04 L643.75 507.06 L644.79 507.08 L645.82 507.10 L646.86 507.12 L647.90 507.14 L648.93 507.17 L649.97 507.19 L651.01 507.22 L652.04 507.24 L653.08 507.27 L654.12 507.30 L655.15 507.33 L656.19 507.36 L657.22 507.39 L658.26 507.43 L659.30 507.46 L660.33 507.50 L661.37 507.54 L662.41 507.58 L663.44 507.62 L664.48 507.67 L665.52 507.71 L666.55 507.76 L667.59 507.81 L668.63 507.86 L669.66 507.91 L670.70 507.96 L671.74 508.02 L672.77 508.08 L673.81 508.14 L674.85 508.20 L675.88 508.27 L676.92 508.33 L677.96 508.40 L678.99 508.47 L680.03 508.55 L681.07 508.63 L682.10 508.71 L683.14 508.79 L684.18 508.87 L685.21 508.96 L686.25 509.05 L687.29 509.14 L688.32 509.24 L689.36 509.34 L690.40 509.44 L691.43 509.54 L692.47 509.65 L693.51 509.76 L694.54 509.87 L695.58 509.99 L696.62 510.11 L697.65 510.23 L698.69 510.35 L699.73 510.48 L700.76 510.61 L701.80 510.74 L702.83 510.87 L703.87 511.01 L704.91 511.15 L705.94 511.29 L706.98 511.44 L708.02 511.58 L709.05 511.73 L710.09 511.88 L711.13 512.03 L712.16 512.19 L713.20 512.35 L714.24 512.50 L715.27 512.66 L716.31 512.82 L717.35 512.98 L718.38 513.15 L719.42 513.31 L720.46 513.47 L721.49 513.64 L722.53 513.80 L723.57 513.97 L724.60 514.14 L725.64 514.30 L726.68 514.47 L727.71 514.63 L728.75 514.79 L729.79 514.96 L730.82 515.12 L731.86 515.28 L732.90 515.44 L733.93 515.60 L734.97 515.76 L736.01 515.91 L737.04 516.07 L738.08 516.22 L739.12 516.37 L740.15 516.52 L741.19 516.66 L742.23 516.80 L743.26 516.95 L744.30 517.08 L745.34 517.22 L746.37 517.35 L747.41 517.48 L748.44 517.61 L749.48 517.74 L750.52 517.86 L751.55 517.98 L752.59 518.10 L753.63 518.21 L754.66 518.32 L755.70 518.43 L756.74 518.54 L757.77 518.64 L758.81 518.74 L759.85 518.84 L760.88 518.93 L761.92 519.03 L762.96 519.11 L763.99 519.20 L765.03 519.28 L766.07 519.37 L767.10 519.44 L768.14 519.52 L769.18 519.59 L770.21 519.66 L771.25 519.73 L772.29 519.80 L773.32 519.86 L774.36 519.93 L775.40 519.99 L776.43 520.04 L777.47 520.10 L778.51 520.15 L779.54 520.20 L780.58 520.25 L781.62 520.30 L782.65 520.35 L783.69 520.39 L784.73 520.43 L785.76 520.48 L786.80 520.51 L787.84 520.55 L788.87 520.59 L789.91 520.62 L790.95 520.66 L791.98 520.69 L793.02 520.72 L794.05 520.75 L795.09 520.78 L796.13 520.81 L797.16 520.83 L798.20 520.86 L799.24 520.88 L800.27 520.91 L801.31 520.93 L802.35 520.95 L803.38 520.97 L804.42 520.99 L805.46 521.01 L806.49 521.03 L807.53 521.04 L808.57 521.06 L809.60 521.08 L810.64 521.09 L811.68 521.11 L812.71 521.12 L813.75 521.13 L814.79 521.15 L815.82 521.16 L816.86 521.17 L817.90 521.18 L818.93 521.19 L819.97 521.20 L821.01 521.21 L822.04 521.22 L823.08 521.23 L824.12 521.24 L825.15 521.25 L826.19 521.25 L827.23 521.26 L828.26 521.27 L829.30 521.28 L830.34 521.28 L831.37 521.29 L832.41 521.30 L833.45 521.30 L834.48 521.31 L835.52 521.31 L836.56 521.32 L837.59 521.32 L838.63 521.33 L839.66 521.33 L840.70 521.34 L841.74 521.34 L842.77 521.34 L843.81 521.35 L844.85 521.35 L845.88 521.35 L846.92 521.36 L847.96 521.36 L848.99 521.36 L850.03 521.37 L851.07 521.37 L852.10 521.37 L853.14 521.37 L854.18 521.38 L855.21 521.38 L856.25 521.38 L857.29 521.38 L858.32 521.38 L859.36 521.39 L860.40 521.39 L861.43 521.39 L862.47 521.39 L863.51 521.39 L864.54 521.39 L865.58 521.40 L866.62 521.40 L867.65 521.40 L868.69 521.40 L869.73 521.40 L870.76 521.40 L871.80 521.40 L872.84 521.40 L873.87 521.41 L874.91 521.41 L875.95 521.41 L876.98 521.41 L878.02 521.41 L879.06 521.41 L880.09 521.41 L881.13 521.41 L882.17 521.41 L883.20 521.41 L884.24 521.41 L885.27 521.41 L886.31 521.41 L887.35 521.42 L888.38 521.42 L889.42 521.42 L890.46 521.42 L891.49 521.42 L892.53 521.42 L893.57 521.42 L894.60 521.42 L895.64 521.42 L896.68 521.42 L897.71 521.42 L898.75 521.42 L899.79 521.42 L900.82 521.42 L901.86 521.42 L902.90 521.42 L903.93 521.42 L904.97 521.42 L906.01 521.42 L907.04 521.42 L908.08 521.42 L909.12 521.42 L910.15 521.42 L911.19 521.42 L912.23 521.42 L913.26 521.42 L914.30 521.42 L915.34 521.42 L916.37 521.42 L917.41 521.42 L918.45 521.42 L919.48 521.42 L920.52 521.42 L921.56 521.42 L922.59 521.43 L923.63 521.43 L924.67 521.43 L925.70 521.43 L926.74 521.43 L927.78 521.43 L928.81 521.43 L929.85 521.43 L930.88 521.43 L931.92 521.43 L932.96 521.43 L933.99 521.43 L935.03 521.43 L936.07 521.43 L937.10 521.43 L938.14 521.43 L939.18 521.43 L940.21 521.43 L941.25 521.43 L942.29 521.43 L943.32 521.43 L944.36 521.43 L945.40 521.43 L946.43 521.43 L947.47 521.43 L948.51 521.43 L949.54 521.43 L950.58 521.43 L951.62 521.43 L952.65 521.43 L953.69 521.43 L954.73 521.43 L955.76 521.43 L956.80 521.43 L957.84 521.43 L958.87 521.43 L959.91 521.43 L960.95 521.43 L961.98 521.43 L963.02 521.43 L964.06 521.43 L965.09 521.43 L966.13 521.43 L967.17 521.43 L968.20 521.43 L969.24 521.43 L970.28 521.43 L971.31 521.43 L972.35 521.43 L973.39 521.43 L974.42 521.43 L975.46 521.43 L976.49 521.43 L977.53 521.43 L978.57 521.43 L979.60 521.43 L980.64 521.43 L981.68 521.43 L982.71 521.43 L983.75 521.43 L984.79 521.43 L985.82 521.43 L986.86 521.43 L987.90 521.43 L988.93 521.43 L989.97 521.43 L991.01 521.43 L992.04 521.43 L993.08 521.43 L994.12 521.43 L995.15 521.43 L996.19 521.43 L997.23 521.43 L998.26 521.43 L999.30 521.43" fill="none" stroke="#000000" stroke-width="5.20" stroke-linejoin="round"/>
<path clip-path="url(#cBR)" d="M585.70 532.24 L586.74 532.24 L587.77 532.24 L588.81 532.24 L589.85 532.24 L590.88 532.25 L591.92 532.25 L592.96 532.25 L593.99 532.25 L595.03 532.25 L596.07 532.25 L597.10 532.25 L598.14 532.25 L599.18 532.25 L600.21 532.25 L601.25 532.25 L602.29 532.25 L603.32 532.25 L604.36 532.25 L605.40 532.25 L606.43 532.25 L607.47 532.25 L608.51 532.25 L609.54 532.25 L610.58 532.25 L611.61 532.25 L612.65 532.26 L613.69 532.26 L614.72 532.26 L615.76 532.26 L616.80 532.26 L617.83 532.26 L618.87 532.26 L619.91 532.26 L620.94 532.26 L621.98 532.26 L623.02 532.26 L624.05 532.27 L625.09 532.27 L626.13 532.27 L627.16 532.27 L628.20 532.27 L629.24 532.27 L630.27 532.27 L631.31 532.28 L632.35 532.28 L633.38 532.28 L634.42 532.28 L635.46 532.28 L636.49 532.28 L637.53 532.29 L638.57 532.29 L639.60 532.29 L640.64 532.29 L641.68 532.30 L642.71 532.30 L643.75 532.30 L644.79 532.30 L645.82 532.31 L646.86 532.31 L647.90 532.31 L648.93 532.32 L649.97 532.32 L651.01 532.32 L652.04 532.33 L653.08 532.33 L654.12 532.33 L655.15 532.34 L656.19 532.34 L657.22 532.35 L658.26 532.35 L659.30 532.36 L660.33 532.36 L661.37 532.37 L662.41 532.37 L663.44 532.38 L664.48 532.38 L665.52 532.39 L666.55 532.39 L667.59 532.40 L668.63 532.41 L669.66 532.41 L670.70 532.42 L671.74 532.43 L672.77 532.44 L673.81 532.44 L674.85 532.45 L675.88 532.46 L676.92 532.47 L677.96 532.48 L678.99 532.49 L680.03 532.49 L681.07 532.50 L682.10 532.51 L683.14 532.52 L684.18 532.53 L685.21 532.54 L686.25 532.55 L687.29 532.56 L688.32 532.58 L689.36 532.59 L690.40 532.60 L691.43 532.61 L692.47 532.62 L693.51 532.63 L694.54 532.64 L695.58 532.65 L696.62 532.66 L697.65 532.68 L698.69 532.69 L699.73 532.70 L700.76 532.71 L701.80 532.72 L702.83 532.73 L703.87 532.74 L704.91 532.75 L705.94 532.76 L706.98 532.77 L708.02 532.78 L709.05 532.79 L710.09 532.79 L711.13 532.80 L712.16 532.81 L713.20 532.81 L714.24 532.82 L715.27 532.82 L716.31 532.82 L717.35 532.82 L718.38 532.82 L719.42 532.82 L720.46 532.82 L721.49 532.81 L722.53 532.81 L723.57 532.80 L724.60 532.79 L725.64 532.78 L726.68 532.77 L727.71 532.75 L728.75 532.74 L729.79 532.72 L730.82 532.70 L731.86 532.68 L732.90 532.65 L733.93 532.63 L734.97 532.60 L736.01 532.57 L737.04 532.54 L738.08 532.50 L739.12 532.47 L740.15 532.43 L741.19 532.39 L742.23 532.35 L743.26 532.31 L744.30 532.27 L745.34 532.22 L746.37 532.17 L747.41 532.12 L748.44 532.07 L749.48 532.02 L750.52 531.97 L751.55 531.91 L752.59 531.86 L753.63 531.80 L754.66 531.75 L755.70 531.69 L756.74 531.63 L757.77 531.57 L758.81 531.51 L759.85 531.45 L760.88 531.40 L761.92 531.34 L762.96 531.28 L763.99 531.22 L765.03 531.16 L766.07 531.10 L767.10 531.04 L768.14 530.98 L769.18 530.93 L770.21 530.87 L771.25 530.81 L772.29 530.76 L773.32 530.70 L774.36 530.65 L775.40 530.60 L776.43 530.55 L777.47 530.50 L778.51 530.45 L779.54 530.40 L780.58 530.35 L781.62 530.30 L782.65 530.26 L783.69 530.21 L784.73 530.17 L785.76 530.13 L786.80 530.08 L787.84 530.04 L788.87 530.01 L789.91 529.97 L790.95 529.93 L791.98 529.90 L793.02 529.86 L794.05 529.83 L795.09 529.79 L796.13 529.76 L797.16 529.73 L798.20 529.70 L799.24 529.67 L800.27 529.65 L801.31 529.62 L802.35 529.59 L803.38 529.57 L804.42 529.55 L805.46 529.52 L806.49 529.50 L807.53 529.48 L808.57 529.46 L809.60 529.44 L810.64 529.42 L811.68 529.40 L812.71 529.38 L813.75 529.37 L814.79 529.35 L815.82 529.34 L816.86 529.32 L817.90 529.31 L818.93 529.29 L819.97 529.28 L821.01 529.27 L822.04 529.25 L823.08 529.24 L824.12 529.23 L825.15 529.22 L826.19 529.21 L827.23 529.20 L828.26 529.19 L829.30 529.18 L830.34 529.17 L831.37 529.16 L832.41 529.15 L833.45 529.15 L834.48 529.14 L835.52 529.13 L836.56 529.13 L837.59 529.12 L838.63 529.11 L839.66 529.11 L840.70 529.10 L841.74 529.09 L842.77 529.09 L843.81 529.08 L844.85 529.08 L845.88 529.08 L846.92 529.07 L847.96 529.07 L848.99 529.06 L850.03 529.06 L851.07 529.05 L852.10 529.05 L853.14 529.05 L854.18 529.04 L855.21 529.04 L856.25 529.04 L857.29 529.04 L858.32 529.03 L859.36 529.03 L860.40 529.03 L861.43 529.03 L862.47 529.02 L863.51 529.02 L864.54 529.02 L865.58 529.02 L866.62 529.01 L867.65 529.01 L868.69 529.01 L869.73 529.01 L870.76 529.01 L871.80 529.01 L872.84 529.01 L873.87 529.00 L874.91 529.00 L875.95 529.00 L876.98 529.00 L878.02 529.00 L879.06 529.00 L880.09 529.00 L881.13 529.00 L882.17 528.99 L883.20 528.99 L884.24 528.99 L885.27 528.99 L886.31 528.99 L887.35 528.99 L888.38 528.99 L889.42 528.99 L890.46 528.99 L891.49 528.99 L892.53 528.99 L893.57 528.99 L894.60 528.99 L895.64 528.99 L896.68 528.98 L897.71 528.98 L898.75 528.98 L899.79 528.98 L900.82 528.98 L901.86 528.98 L902.90 528.98 L903.93 528.98 L904.97 528.98 L906.01 528.98 L907.04 528.98 L908.08 528.98 L909.12 528.98 L910.15 528.98 L911.19 528.98 L912.23 528.98 L913.26 528.98 L914.30 528.98 L915.34 528.98 L916.37 528.98 L917.41 528.98 L918.45 528.98 L919.48 528.98 L920.52 528.98 L921.56 528.98 L922.59 528.98 L923.63 528.98 L924.67 528.98 L925.70 528.98 L926.74 528.98 L927.78 528.98 L928.81 528.98 L929.85 528.98 L930.88 528.98 L931.92 528.98 L932.96 528.98 L933.99 528.98 L935.03 528.98 L936.07 528.98 L937.10 528.98 L938.14 528.98 L939.18 528.98 L940.21 528.98 L941.25 528.98 L942.29 528.97 L943.32 528.97 L944.36 528.97 L945.40 528.97 L946.43 528.97 L947.47 528.97 L948.51 528.97 L949.54 528.97 L950.58 528.97 L951.62 528.97 L952.65 528.97 L953.69 528.97 L954.73 528.97 L955.76 528.97 L956.80 528.97 L957.84 528.97 L958.87 528.97 L959.91 528.97 L960.95 528.97 L961.98 528.97 L963.02 528.97 L964.06 528.97 L965.09 528.97 L966.13 528.97 L967.17 528.97 L968.20 528.97 L969.24 528.97 L970.28 528.97 L971.31 528.97 L972.35 528.97 L973.39 528.97 L974.42 528.97 L975.46 528.97 L976.49 528.97 L977.53 528.97 L978.57 528.97 L979.60 528.97 L980.64 528.97 L981.68 528.97 L982.71 528.97 L983.75 528.97 L984.79 528.97 L985.82 528.97 L986.86 528.97 L987.90 528.97 L988.93 528.97 L989.97 528.97 L991.01 528.97 L992.04 528.97 L993.08 528.97 L994.12 528.97 L995.15 528.97 L996.19 528.97 L997.23 528.97 L998.26 528.97 L999.30 528.97" fill="none" stroke="#ff0000" stroke-width="5.20" stroke-linejoin="round"/>
<line x1="682.81" y1="868.40" x2="682.81" y2="447.80" stroke="#ff0000" stroke-width="2.67" stroke-dasharray="18.2 10.8"/>
<path clip-path="url(#cBR)" d="M585.70 528.47 L586.74 528.47 L587.77 528.47 L588.81 528.47 L589.85 528.47 L590.88 528.48 L591.92 528.48 L592.96 528.48 L593.99 528.48 L595.03 528.48 L596.07 528.48 L597.10 528.48 L598.14 528.48 L599.18 528.49 L600.21 528.49 L601.25 528.49 L602.29 528.49 L603.32 528.49 L604.36 528.49 L605.40 528.50 L606.43 528.50 L607.47 528.50 L608.51 528.50 L609.54 528.50 L610.58 528.51 L611.61 528.51 L612.65 528.51 L613.69 528.51 L614.72 528.52 L615.76 528.52 L616.80 528.52 L617.83 528.53 L618.87 528.53 L619.91 528.53 L620.94 528.54 L621.98 528.54 L623.02 528.55 L624.05 528.55 L625.09 528.55 L626.13 528.56 L627.16 528.56 L628.20 528.57 L629.24 528.57 L630.27 528.58 L631.31 528.58 L632.35 528.59 L633.38 528.60 L634.42 528.60 L635.46 528.61 L636.49 528.62 L637.53 528.62 L638.57 528.63 L639.60 528.64 L640.64 528.65 L641.68 528.66 L642.71 528.67 L643.75 528.68 L644.79 528.69 L645.82 528.70 L646.86 528.71 L647.90 528.72 L648.93 528.73 L649.97 528.74 L651.01 528.76 L652.04 528.77 L653.08 528.78 L654.12 528.80 L655.15 528.81 L656.19 528.83 L657.22 528.84 L658.26 528.86 L659.30 528.88 L660.33 528.89 L661.37 528.91 L662.41 528.93 L663.44 528.95 L664.48 528.97 L665.52 529.00 L666.55 529.02 L667.59 529.04 L668.63 529.07 L669.66 529.09 L670.70 529.12 L671.74 529.14 L672.77 529.17 L673.81 529.20 L674.85 529.23 L675.88 529.26 L676.92 529.29 L677.96 529.33 L678.99 529.36 L680.03 529.40 L681.07 529.43 L682.10 529.47 L683.14 529.51 L684.18 529.55 L685.21 529.59 L686.25 529.63 L687.29 529.67 L688.32 529.71 L689.36 529.76 L690.40 529.80 L691.43 529.85 L692.47 529.90 L693.51 529.95 L694.54 530.00 L695.58 530.05 L696.62 530.10 L697.65 530.15 L698.69 530.20 L699.73 530.26 L700.76 530.31 L701.80 530.37 L702.83 530.42 L703.87 530.48 L704.91 530.54 L705.94 530.60 L706.98 530.65 L708.02 530.71 L709.05 530.77 L710.09 530.83 L711.13 530.89 L712.16 530.95 L713.20 531.01 L714.24 531.07 L715.27 531.13 L716.31 531.19 L717.35 531.25 L718.38 531.30 L719.42 531.36 L720.46 531.42 L721.49 531.48 L722.53 531.53 L723.57 531.59 L724.60 531.64 L725.64 531.69 L726.68 531.75 L727.71 531.80 L728.75 531.85 L729.79 531.90 L730.82 531.94 L731.86 531.99 L732.90 532.03 L733.93 532.08 L734.97 532.12 L736.01 532.16 L737.04 532.20 L738.08 532.23 L739.12 532.27 L740.15 532.30 L741.19 532.33 L742.23 532.36 L743.26 532.39 L744.30 532.42 L745.34 532.44 L746.37 532.47 L747.41 532.49 L748.44 532.51 L749.48 532.53 L750.52 532.54 L751.55 532.56 L752.59 532.57 L753.63 532.59 L754.66 532.60 L755.70 532.61 L756.74 532.62 L757.77 532.63 L758.81 532.63 L759.85 532.64 L760.88 532.64 L761.92 532.64 L762.96 532.65 L763.99 532.65 L765.03 532.65 L766.07 532.65 L767.10 532.64 L768.14 532.64 L769.18 532.64 L770.21 532.64 L771.25 532.63 L772.29 532.63 L773.32 532.62 L774.36 532.62 L775.40 532.61 L776.43 532.60 L777.47 532.60 L778.51 532.59 L779.54 532.58 L780.58 532.58 L781.62 532.57 L782.65 532.56 L783.69 532.55 L784.73 532.54 L785.76 532.54 L786.80 532.53 L787.84 532.52 L788.87 532.51 L789.91 532.51 L790.95 532.50 L791.98 532.49 L793.02 532.48 L794.05 532.47 L795.09 532.47 L796.13 532.46 L797.16 532.45 L798.20 532.44 L799.24 532.44 L800.27 532.43 L801.31 532.42 L802.35 532.42 L803.38 532.41 L804.42 532.40 L805.46 532.40 L806.49 532.39 L807.53 532.39 L808.57 532.38 L809.60 532.38 L810.64 532.37 L811.68 532.36 L812.71 532.36 L813.75 532.35 L814.79 532.35 L815.82 532.35 L816.86 532.34 L817.90 532.34 L818.93 532.33 L819.97 532.33 L821.01 532.33 L822.04 532.32 L823.08 532.32 L824.12 532.31 L825.15 532.31 L826.19 532.31 L827.23 532.31 L828.26 532.30 L829.30 532.30 L830.34 532.30 L831.37 532.29 L832.41 532.29 L833.45 532.29 L834.48 532.29 L835.52 532.28 L836.56 532.28 L837.59 532.28 L838.63 532.28 L839.66 532.28 L840.70 532.27 L841.74 532.27 L842.77 532.27 L843.81 532.27 L844.85 532.27 L845.88 532.27 L846.92 532.27 L847.96 532.26 L848.99 532.26 L850.03 532.26 L851.07 532.26 L852.10 532.26 L853.14 532.26 L854.18 532.26 L855.21 532.26 L856.25 532.25 L857.29 532.25 L858.32 532.25 L859.36 532.25 L860.40 532.25 L861.43 532.25 L862.47 532.25 L863.51 532.25 L864.54 532.25 L865.58 532.25 L866.62 532.25 L867.65 532.25 L868.69 532.25 L869.73 532.25 L870.76 532.24 L871.80 532.24 L872.84 532.24 L873.87 532.24 L874.91 532.24 L875.95 532.24 L876.98 532.24 L878.02 532.24 L879.06 532.24 L880.09 532.24 L881.13 532.24 L882.17 532.24 L883.20 532.24 L884.24 532.24 L885.27 532.24 L886.31 532.24 L887.35 532.24 L888.38 532.24 L889.42 532.24 L890.46 532.24 L891.49 532.24 L892.53 532.24 L893.57 532.24 L894.60 532.24 L895.64 532.24 L896.68 532.24 L897.71 532.24 L898.75 532.24 L899.79 532.24 L900.82 532.24 L901.86 532.24 L902.90 532.24 L903.93 532.24 L904.97 532.24 L906.01 532.24 L907.04 532.24 L908.08 532.24 L909.12 532.24 L910.15 532.24 L911.19 532.24 L912.23 532.24 L913.26 532.24 L914.30 532.24 L915.34 532.24 L916.37 532.24 L917.41 532.24 L918.45 532.23 L919.48 532.23 L920.52 532.23 L921.56 532.23 L922.59 532.23 L923.63 532.23 L924.67 532.23 L925.70 532.23 L926.74 532.23 L927.78 532.23 L928.81 532.23 L929.85 532.23 L930.88 532.23 L931.92 532.23 L932.96 532.23 L933.99 532.23 L935.03 532.23 L936.07 532.23 L937.10 532.23 L938.14 532.23 L939.18 532.23 L940.21 532.23 L941.25 532.23 L942.29 532.23 L943.32 532.23 L944.36 532.23 L945.40 532.23 L946.43 532.23 L947.47 532.23 L948.51 532.23 L949.54 532.23 L950.58 532.23 L951.62 532.23 L952.65 532.23 L953.69 532.23 L954.73 532.23 L955.76 532.23 L956.80 532.23 L957.84 532.23 L958.87 532.23 L959.91 532.23 L960.95 532.23 L961.98 532.23 L963.02 532.23 L964.06 532.23 L965.09 532.23 L966.13 532.23 L967.17 532.23 L968.20 532.23 L969.24 532.23 L970.28 532.23 L971.31 532.23 L972.35 532.23 L973.39 532.23 L974.42 532.23 L975.46 532.23 L976.49 532.23 L977.53 532.23 L978.57 532.23 L979.60 532.23 L980.64 532.23 L981.68 532.23 L982.71 532.23 L983.75 532.23 L984.79 532.23 L985.82 532.23 L986.86 532.23 L987.90 532.23 L988.93 532.23 L989.97 532.23 L991.01 532.23 L992.04 532.23 L993.08 532.23 L994.12 532.23 L995.15 532.23 L996.19 532.23 L997.23 532.23 L998.26 532.23 L999.30 532.23" fill="none" stroke="#0000ff" stroke-width="5.20" stroke-linejoin="round"/>
<line x1="861.99" y1="868.40" x2="861.99" y2="447.80" stroke="#0000ff" stroke-width="2.67" stroke-dasharray="18.2 10.8"/>
<path d="M609.10 868.40v-2.90 M609.10 447.80v2.90 M627.67 868.40v-2.90 M627.67 447.80v2.90 M640.84 868.40v-2.90 M640.84 447.80v2.90 M651.06 868.40v-2.90 M651.06 447.80v2.90 M659.42 868.40v-2.90 M659.42 447.80v2.90 M666.48 868.40v-2.90 M666.48 447.80v2.90 M672.59 868.40v-2.90 M672.59 447.80v2.90 M677.99 868.40v-2.90 M677.99 447.80v2.90 M682.81 868.40v-2.90 M682.81 447.80v2.90 M714.56 868.40v-2.90 M714.56 447.80v2.90 M733.13 868.40v-2.90 M733.13 447.80v2.90 M746.31 868.40v-2.90 M746.31 447.80v2.90 M756.53 868.40v-2.90 M756.53 447.80v2.90 M764.88 868.40v-2.90 M764.88 447.80v2.90 M771.94 868.40v-2.90 M771.94 447.80v2.90 M778.05 868.40v-2.90 M778.05 447.80v2.90 M783.45 868.40v-2.90 M783.45 447.80v2.90 M788.27 868.40v-5.40 M788.27 447.80v5.40 M820.02 868.40v-2.90 M820.02 447.80v2.90 M838.59 868.40v-2.90 M838.59 447.80v2.90 M851.77 868.40v-2.90 M851.77 447.80v2.90 M861.99 868.40v-2.90 M861.99 447.80v2.90 M870.34 868.40v-2.90 M870.34 447.80v2.90 M877.40 868.40v-2.90 M877.40 447.80v2.90 M883.52 868.40v-2.90 M883.52 447.80v2.90 M888.91 868.40v-2.90 M888.91 447.80v2.90 M893.74 868.40v-2.90 M893.74 447.80v2.90 M925.48 868.40v-2.90 M925.48 447.80v2.90 M944.06 868.40v-2.90 M944.06 447.80v2.90 M957.23 868.40v-2.90 M957.23 447.80v2.90 M967.45 868.40v-2.90 M967.45 447.80v2.90 M975.80 868.40v-2.90 M975.80 447.80v2.90 M982.86 868.40v-2.90 M982.86 447.80v2.90 M988.98 868.40v-2.90 M988.98 447.80v2.90 M994.37 868.40v-2.90 M994.37 447.80v2.90 M999.20 868.40v-5.40 M999.20 447.80v5.40 M585.70 868.40h5.40 M999.20 868.40h-5.40 M585.70 843.08h2.90 M999.20 843.08h-2.90 M585.70 828.26h2.90 M999.20 828.26h-2.90 M585.70 817.75h2.90 M999.20 817.75h-2.90 M585.70 809.60h2.90 M999.20 809.60h-2.90 M585.70 802.94h2.90 M999.20 802.94h-2.90 M585.70 797.31h2.90 M999.20 797.31h-2.90 M585.70 792.43h2.90 M999.20 792.43h-2.90 M585.70 788.13h2.90 M999.20 788.13h-2.90 M585.70 784.28h2.90 M999.20 784.28h-2.90 M585.70 758.96h2.90 M999.20 758.96h-2.90 M585.70 744.14h2.90 M999.20 744.14h-2.90 M585.70 733.63h2.90 M999.20 733.63h-2.90 M585.70 725.48h2.90 M999.20 725.48h-2.90 M585.70 718.82h2.90 M999.20 718.82h-2.90 M585.70 713.19h2.90 M999.20 713.19h-2.90 M585.70 708.31h2.90 M999.20 708.31h-2.90 M585.70 704.01h2.90 M999.20 704.01h-2.90 M585.70 700.16h5.40 M999.20 700.16h-5.40 M585.70 674.84h2.90 M999.20 674.84h-2.90 M585.70 660.02h2.90 M999.20 660.02h-2.90 M585.70 649.51h2.90 M999.20 649.51h-2.90 M585.70 641.36h2.90 M999.20 641.36h-2.90 M585.70 634.70h2.90 M999.20 634.70h-2.90 M585.70 629.07h2.90 M999.20 629.07h-2.90 M585.70 624.19h2.90 M999.20 624.19h-2.90 M585.70 619.89h2.90 M999.20 619.89h-2.90 M585.70 616.04h2.90 M999.20 616.04h-2.90 M585.70 590.72h2.90 M999.20 590.72h-2.90 M585.70 575.90h2.90 M999.20 575.90h-2.90 M585.70 565.39h2.90 M999.20 565.39h-2.90 M585.70 557.24h2.90 M999.20 557.24h-2.90 M585.70 550.58h2.90 M999.20 550.58h-2.90 M585.70 544.95h2.90 M999.20 544.95h-2.90 M585.70 540.07h2.90 M999.20 540.07h-2.90 M585.70 535.77h2.90 M999.20 535.77h-2.90 M585.70 531.92h5.40 M999.20 531.92h-5.40 M585.70 506.60h2.90 M999.20 506.60h-2.90 M585.70 491.78h2.90 M999.20 491.78h-2.90 M585.70 481.27h2.90 M999.20 481.27h-2.90 M585.70 473.12h2.90 M999.20 473.12h-2.90 M585.70 466.46h2.90 M999.20 466.46h-2.90 M585.70 460.83h2.90 M999.20 460.83h-2.90 M585.70 455.95h2.90 M999.20 455.95h-2.90 M585.70 451.65h2.90 M999.20 451.65h-2.90 M585.70 447.80h2.90 M999.20 447.80h-2.90" stroke="#262626" stroke-width="1.33" fill="none"/>
<rect x="585.70" y="447.80" width="413.50" height="420.60" fill="none" stroke="#262626" stroke-width="1.33"/>
</g>
<line x1="664.30" y1="95.40" x2="664.30" y2="214.90" stroke="#ff0000" stroke-width="1.60"/><path d="M664.30 231.90 L654.65 206.90 L664.30 213.90 L673.95 206.90 Z" fill="#ff0000"/>
<line x1="878.60" y1="137.10" x2="878.60" y2="339.90" stroke="#0000ff" stroke-width="1.60"/><path d="M878.60 356.90 L868.95 331.90 L878.60 338.90 L888.25 331.90 Z" fill="#0000ff"/>
<line x1="231.00" y1="544.90" x2="231.00" y2="663.70" stroke="#ff0000" stroke-width="1.60"/><path d="M231.00 680.70 L221.35 655.70 L231.00 662.70 L240.65 655.70 Z" fill="#ff0000"/>
<line x1="445.00" y1="586.00" x2="445.00" y2="788.80" stroke="#0000ff" stroke-width="1.60"/><path d="M445.00 805.80 L435.35 780.80 L445.00 787.80 L454.65 780.80 Z" fill="#0000ff"/>
<text transform="translate(80.53 96.11) scale(0.9707 1)" font-size="44.20" fill="#262626">10</text><text transform="translate(123.85 80.94) scale(0.9042 1)" font-size="30.53" fill="#262626">0</text>
<text transform="translate(58.80 264.39) scale(0.9525 1)" font-size="44.20" fill="#262626">10</text><text transform="translate(101.27 249.02) scale(1.1597 1)" font-size="30.03" fill="#262626">−2</text>
<text transform="translate(58.80 432.67) scale(0.9525 1)" font-size="44.20" fill="#262626">10</text><text transform="translate(101.33 417.30) scale(1.1072 1)" font-size="30.21" fill="#262626">−4</text>
<text transform="translate(80.53 542.29) scale(0.9707 1)" font-size="44.20" fill="#262626">10</text><text transform="translate(123.85 527.12) scale(0.9042 1)" font-size="30.53" fill="#262626">0</text>
<text transform="translate(58.80 710.53) scale(0.9525 1)" font-size="44.20" fill="#262626">10</text><text transform="translate(101.27 695.16) scale(1.1597 1)" font-size="30.03" fill="#262626">−2</text>
<text transform="translate(58.80 878.77) scale(0.9525 1)" font-size="44.20" fill="#262626">10</text><text transform="translate(101.33 863.40) scale(1.1072 1)" font-size="30.21" fill="#262626">−4</text>
<text transform="translate(325.51 916.96) scale(0.9327 1)" font-size="45.26" fill="#262626">10</text><text transform="translate(367.29 901.50) scale(0.9737 1)" font-size="30.53" fill="#262626">0</text>
<text transform="translate(536.49 916.96) scale(0.9327 1)" font-size="45.26" fill="#262626">10</text><text transform="translate(578.04 901.50) scale(1.0194 1)" font-size="30.34" fill="#262626">2</text>
<text transform="translate(758.96 916.96) scale(0.9327 1)" font-size="45.26" fill="#262626">10</text><text transform="translate(800.74 901.50) scale(0.9737 1)" font-size="30.53" fill="#262626">0</text>
<text transform="translate(969.89 916.96) scale(0.9327 1)" font-size="45.26" fill="#262626">10</text><text transform="translate(1011.44 901.50) scale(1.0194 1)" font-size="30.34" fill="#262626">2</text>
<text transform="translate(300.02 971.10) scale(1.3272 1)" font-size="45.58" fill="#262626" font-style="italic" filter="url(#thin2)">f</text>
<text transform="translate(343.67 975.26) scale(0.5240 1)" font-size="54.85" fill="#262626">[</text>
<text transform="translate(352.58 971.30) scale(0.9364 1)" font-size="49.00" fill="#262626">Hz</text>
<text transform="translate(406.76 975.26) scale(0.5240 1)" font-size="54.85" fill="#262626">]</text>
<text transform="translate(733.52 971.10) scale(1.3272 1)" font-size="45.58" fill="#262626" font-style="italic" filter="url(#thin2)">f</text>
<text transform="translate(777.17 975.26) scale(0.5240 1)" font-size="54.85" fill="#262626">[</text>
<text transform="translate(786.08 971.30) scale(0.9364 1)" font-size="49.00" fill="#262626">Hz</text>
<text transform="translate(840.26 975.26) scale(0.5240 1)" font-size="54.85" fill="#262626">]</text>
<g transform="translate(0 262.70) rotate(-90)"><text transform="translate(-3.42 36.30) scale(0.6885 1)" font-size="49.58" fill="#262626">|</text><text transform="translate(10.82 35.76) scale(1.0026 1)" font-size="43.27" fill="#262626" font-style="italic" filter="url(#thin)">y</text><text transform="translate(29.03 42.60) scale(0.8822 1)" font-size="30.59" fill="#262626">1</text><text transform="translate(49.80 46.34) scale(0.8488 1)" font-size="67.42" fill="#262626" filter="url(#thin2)">/</text><text transform="translate(67.19 36.61) scale(1.3894 1)" font-size="42.06" fill="#262626" font-style="italic" filter="url(#thin)">u</text><text transform="translate(97.88 36.30) scale(0.6885 1)" font-size="49.58" fill="#262626">|</text></g>
<g transform="translate(0 708.90) rotate(-90)"><text transform="translate(-3.42 36.30) scale(0.6885 1)" font-size="49.58" fill="#262626">|</text><text transform="translate(10.82 35.76) scale(1.0026 1)" font-size="43.27" fill="#262626" font-style="italic" filter="url(#thin)">y</text><text transform="translate(29.08 42.60) scale(0.9815 1)" font-size="30.50" fill="#262626">2</text><text transform="translate(49.80 46.34) scale(0.8488 1)" font-size="67.42" fill="#262626" filter="url(#thin2)">/</text><text transform="translate(67.19 36.61) scale(1.3894 1)" font-size="42.06" fill="#262626" font-style="italic" filter="url(#thin)">u</text><text transform="translate(97.88 36.30) scale(0.6885 1)" font-size="49.58" fill="#262626">|</text></g>
<text transform="translate(192.57 45.42) scale(1.3034 1)" font-size="40.58" fill="#000" font-style="italic" filter="url(#thin)">u</text><text transform="translate(217.25 51.40) scale(0.9719 1)" font-size="29.81" fill="#000">1</text>
<text transform="translate(192.57 129.32) scale(1.3034 1)" font-size="40.58" fill="#ff0000" font-style="italic" filter="url(#thin)">û</text><text transform="translate(217.25 135.30) scale(0.9719 1)" font-size="29.81" fill="#ff0000">1</text>
<text transform="translate(382.57 129.32) scale(1.3034 1)" font-size="40.58" fill="#0000ff" font-style="italic" filter="url(#thin)">û</text><text transform="translate(407.25 135.30) scale(0.9719 1)" font-size="29.81" fill="#0000ff">1</text>
<text transform="translate(626.07 70.52) scale(1.3034 1)" font-size="40.58" fill="#000" font-style="italic" filter="url(#thin)">u</text><text transform="translate(651.07 76.60) scale(1.0050 1)" font-size="30.03" fill="#000">2</text>
<text transform="translate(625.97 297.72) scale(1.3034 1)" font-size="40.58" fill="#ff0000" font-style="italic" filter="url(#thin)">û</text><text transform="translate(650.97 303.80) scale(1.0050 1)" font-size="30.03" fill="#ff0000">2</text>
<text transform="translate(815.97 381.72) scale(1.3034 1)" font-size="40.58" fill="#0000ff" font-style="italic" filter="url(#thin)">û</text><text transform="translate(840.97 387.80) scale(1.0050 1)" font-size="30.03" fill="#0000ff">2</text>
<text transform="translate(192.67 516.32) scale(1.3034 1)" font-size="40.58" fill="#000" font-style="italic" filter="url(#thin)">u</text><text transform="translate(217.35 522.30) scale(0.9719 1)" font-size="29.81" fill="#000">1</text>
<text transform="translate(192.67 743.32) scale(1.3034 1)" font-size="40.58" fill="#ff0000" font-style="italic" filter="url(#thin)">û</text><text transform="translate(217.35 749.30) scale(0.9719 1)" font-size="29.81" fill="#ff0000">1</text>
<text transform="translate(382.47 827.52) scale(1.3034 1)" font-size="40.58" fill="#0000ff" font-style="italic" filter="url(#thin)">û</text><text transform="translate(407.15 833.50) scale(0.9719 1)" font-size="29.81" fill="#0000ff">1</text>
<text transform="translate(626.17 491.32) scale(1.3034 1)" font-size="40.58" fill="#000" font-style="italic" filter="url(#thin)">u</text><text transform="translate(651.17 497.40) scale(1.0050 1)" font-size="30.03" fill="#000">2</text>
<text transform="translate(626.17 575.22) scale(1.3034 1)" font-size="40.58" fill="#ff0000" font-style="italic" filter="url(#thin)">û</text><text transform="translate(651.17 581.30) scale(1.0050 1)" font-size="30.03" fill="#ff0000">2</text>
<text transform="translate(816.17 575.22) scale(1.3034 1)" font-size="40.58" fill="#0000ff" font-style="italic" filter="url(#thin)">û</text><text transform="translate(841.17 581.30) scale(1.0050 1)" font-size="30.03" fill="#0000ff">2</text>
</svg></body></html>
